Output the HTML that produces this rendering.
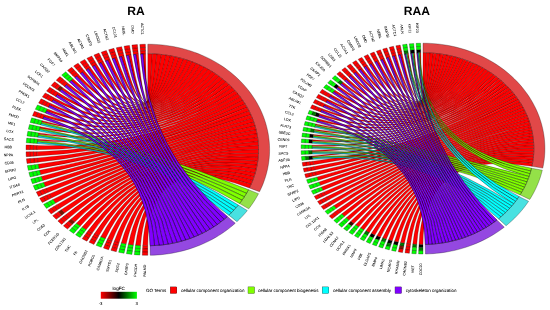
<!DOCTYPE html>
<html lang="en"><head><meta charset="utf-8"><title>GOChord RA / RAA</title>
<style>html,body{margin:0;padding:0;background:#fff}svg{display:block}</style></head>
<body>
<svg width="550" height="310" viewBox="0 0 550 310" text-rendering="geometricPrecision" font-family="'Liberation Sans', Arial, sans-serif">
<rect width="550" height="310" fill="#fff"/>
<defs><filter id="bold" x="-5%" y="-5%" width="110%" height="110%" color-interpolation-filters="sRGB"><feGaussianBlur stdDeviation="0.35"/><feComponentTransfer><feFuncA type="linear" slope="1.2"/></feComponentTransfer></filter><filter id="bold2" x="-5%" y="-20%" width="110%" height="140%" color-interpolation-filters="sRGB"><feGaussianBlur stdDeviation="0.3"/><feComponentTransfer><feFuncA type="linear" slope="1.2"/></feComponentTransfer></filter></defs>
<text x="136.1" y="14.5" font-size="12.1" font-weight="bold" text-anchor="middle" fill="#000">RA</text>
<text x="416.8" y="14.5" font-size="12.1" font-weight="bold" text-anchor="middle" fill="#000">RAA</text>
<g stroke="#000" stroke-width="0.28" stroke-linejoin="round">
<path d="M147.8,53.8L151.12,53.84L154.44,53.97L157.75,54.18L161.06,54.49L164.35,54.87L167.62,55.35L170.88,55.9L174.12,56.55L177.34,57.27L180.52,58.08L183.68,58.97L186.81,59.95L189.9,61L192.95,62.14L195.97,63.35L198.94,64.64L201.86,66.01L204.73,67.45L207.56,68.97L210.33,70.56L213.04,72.22L215.69,73.95L218.29,75.75L220.82,77.61L223.28,79.54L225.68,81.54L228,83.59L230.26,85.71L232.44,87.88L234.54,90.11L236.57,92.39L238.51,94.72L240.38,97.11L242.16,99.54L243.85,102.01L245.46,104.53L246.98,107.09L248.41,109.69L249.76,112.32L251.01,114.99L252.16,117.69L253.23,120.41L254.19,123.17L255.07,125.95L255.84,128.74L256.52,131.56L257.1,134.4L257.58,137.25L257.97,140.1L258.25,142.97L258.44,145.85L258.52,148.73L258.51,151.6L258.39,154.48L258.18,157.35L257.87,160.22L257.45,163.08L256.94,165.92L256.33,168.75L255.63,171.56L254.82,174.36L253.92,177.13L252.93,179.87L251.84,182.59L250.66,185.28L249.38,187.94L259.54,191.76L260.94,188.84L262.24,185.88L263.44,182.89L264.54,179.87L265.53,176.82L266.41,173.74L267.19,170.65L267.86,167.54L268.42,164.41L268.87,161.27L269.22,158.11L269.45,154.95L269.58,151.79L269.59,148.62L269.5,145.46L269.3,142.3L268.98,139.14L268.56,135.99L268.03,132.86L267.39,129.74L266.65,126.64L265.79,123.57L264.83,120.51L263.77,117.48L262.6,114.48L261.33,111.51L259.95,108.58L258.48,105.68L256.9,102.82L255.23,100.01L253.46,97.24L251.59,94.52L249.63,91.84L247.58,89.22L245.44,86.65L243.21,84.14L240.9,81.69L238.5,79.3L236.02,76.98L233.46,74.72L230.83,72.52L228.12,70.4L225.34,68.35L222.48,66.37L219.56,64.47L216.58,62.64L213.53,60.89L210.43,59.22L207.26,57.63L204.05,56.13L200.78,54.71L197.47,53.37L194.11,52.13L190.71,50.97L187.27,49.9L183.8,48.91L180.29,48.02L176.75,47.23L173.19,46.52L169.61,45.91L166,45.39L162.38,44.96L158.75,44.63L155.1,44.39L151.45,44.25L147.8,44.2Z" fill="#E14848"/>
<path d="M248.48,189.69L246.9,192.55L245.22,195.36L243.43,198.12L241.53,200.83L239.54,203.48L248.71,208.86L250.91,205.94L252.99,202.96L254.96,199.92L256.81,196.83L258.54,193.69Z" fill="#94E148"/>
<path d="M238.28,205.06L236.07,207.68L233.76,210.24L231.35,212.72L228.84,215.13L236.95,221.67L239.7,219.02L242.35,216.29L244.9,213.48L247.33,210.59Z" fill="#48E1E1"/>
<path d="M227.32,216.53L224.97,218.57L222.55,220.54L220.06,222.46L217.51,224.31L214.89,226.09L212.21,227.8L209.48,229.44L206.69,231.01L203.85,232.51L200.95,233.93L198.01,235.27L195.02,236.54L191.99,237.73L188.92,238.84L185.82,239.87L182.68,240.82L179.5,241.69L176.3,242.47L173.08,243.17L169.83,243.79L166.56,244.32L163.27,244.76L159.97,245.12L156.66,245.4L153.34,245.58L150.01,245.69L150.24,255.28L153.89,255.17L157.54,254.96L161.19,254.66L164.82,254.26L168.43,253.77L172.03,253.19L175.6,252.51L179.15,251.74L182.67,250.88L186.16,249.93L189.62,248.88L193.04,247.75L196.41,246.53L199.75,245.22L203.03,243.82L206.27,242.34L209.45,240.78L212.58,239.13L215.65,237.41L218.65,235.6L221.6,233.72L224.48,231.76L227.28,229.73L230.02,227.62L232.68,225.45L235.27,223.2Z" fill="#9448E1"/>
<path d="M145.59,53.81L143.07,53.88L140.56,54L140.32,50.81L142.91,50.69L145.51,50.62Z" fill="#FF0000"/>
<path d="M145.51,50.62L142.91,50.69L140.32,50.81L140.08,47.62L142.76,47.49L145.44,47.42Z" fill="#FF0000"/>
<path d="M145.44,47.42L142.76,47.49L140.08,47.62L139.83,44.43L142.6,44.3L145.36,44.22Z" fill="#FF0000"/>
<path d="M138.35,54.15L135.85,54.36L133.35,54.62L132.87,51.45L135.45,51.18L138.03,50.96Z" fill="#FF0000"/>
<path d="M138.03,50.96L135.45,51.18L132.87,51.45L132.38,48.27L135.05,48L137.72,47.77Z" fill="#FF0000"/>
<path d="M137.72,47.77L135.05,48L132.38,48.27L131.9,45.1L134.65,44.82L137.4,44.59Z" fill="#FF0000"/>
<path d="M131.15,54.89L128.67,55.24L126.2,55.64L125.48,52.5L128.03,52.09L130.6,51.72Z" fill="#FF0000"/>
<path d="M130.6,51.72L128.03,52.09L125.48,52.5L124.76,49.37L127.4,48.94L130.04,48.56Z" fill="#FF0000"/>
<path d="M130.04,48.56L127.4,48.94L124.76,49.37L124.04,46.23L126.76,45.79L129.49,45.4Z" fill="#FF0000"/>
<path d="M124.03,56.03L121.58,56.52L119.14,57.07L118.19,53.98L120.71,53.42L123.24,52.91Z" fill="#FF0000"/>
<path d="M123.24,52.91L120.71,53.42L118.19,53.98L117.23,50.89L119.83,50.31L122.45,49.78Z" fill="#FF0000"/>
<path d="M122.45,49.78L119.83,50.31L117.23,50.89L116.28,47.8L118.96,47.2L121.65,46.66Z" fill="#FF0000"/>
<path d="M117.01,57.58L114.6,58.21L112.21,58.89L111.02,55.86L113.49,55.16L115.98,54.51Z" fill="#FF0000"/>
<path d="M115.98,54.51L113.49,55.16L111.02,55.86L109.84,52.83L112.39,52.11L114.96,51.44Z" fill="#FF0000"/>
<path d="M114.96,51.44L112.39,52.11L109.84,52.83L108.65,49.8L111.28,49.06L113.93,48.36Z" fill="#FF0000"/>
<path d="M110.12,59.52L107.76,60.29L105.43,61.1L104.01,58.14L106.43,57.31L108.86,56.52Z" fill="#FF0000"/>
<path d="M108.86,56.52L106.43,57.31L104.01,58.14L102.6,55.19L105.09,54.32L107.61,53.51Z" fill="#FF0000"/>
<path d="M107.61,53.51L105.09,54.32L102.6,55.19L101.19,52.23L103.76,51.34L106.35,50.5Z" fill="#FF0000"/>
<path d="M103.39,61.85L101.1,62.75L98.83,63.69L97.19,60.82L99.54,59.85L101.91,58.92Z" fill="#FF0000"/>
<path d="M101.91,58.92L99.54,59.85L97.19,60.82L95.56,57.95L97.98,56.95L100.43,55.99Z" fill="#FF0000"/>
<path d="M100.43,55.99L97.98,56.95L95.56,57.95L93.93,55.09L96.43,54.05L98.95,53.06Z" fill="#FF0000"/>
<path d="M96.85,64.56L94.63,65.58L92.44,66.65L90.59,63.88L92.86,62.78L95.15,61.72Z" fill="#FF0000"/>
<path d="M95.15,61.72L92.86,62.78L90.59,63.88L88.75,61.11L91.08,59.97L93.45,58.88Z" fill="#FF0000"/>
<path d="M93.45,58.88L91.08,59.97L88.75,61.11L86.9,58.34L89.31,57.17L91.76,56.04Z" fill="#FF0000"/>
<path d="M90.53,67.63L88.39,68.78L86.28,69.97L84.23,67.31L86.41,66.08L88.62,64.89Z" fill="#FF0000"/>
<path d="M88.62,64.89L86.41,66.08L84.23,67.31L82.18,64.65L84.43,63.38L86.71,62.15Z" fill="#FF0000"/>
<path d="M86.71,62.15L84.43,63.38L82.18,64.65L80.13,61.99L82.45,60.68L84.8,59.41Z" fill="#FF0000"/>
<path d="M84.45,71.05L82.41,72.32L80.39,73.62L78.15,71.09L80.23,69.74L82.34,68.43Z" fill="#FF0000"/>
<path d="M82.34,68.43L80.23,69.74L78.15,71.09L75.9,68.55L78.05,67.15L80.23,65.8Z" fill="#FF0000"/>
<path d="M80.23,65.8L78.05,67.15L75.9,68.55L73.65,66.01L75.87,64.57L78.12,63.18Z" fill="#FF0000"/>
<path d="M78.65,74.81L76.7,76.19L74.79,77.61L72.36,75.2L74.33,73.74L76.35,72.31Z" fill="#FF0000"/>
<path d="M76.35,72.31L74.33,73.74L72.36,75.2L69.93,72.8L71.96,71.28L74.04,69.81Z" fill="#FF0000"/>
<path d="M74.04,69.81L71.96,71.28L69.93,72.8L67.49,70.39L69.59,68.83L71.74,67.31Z" fill="#FF0000"/>
<path d="M73.14,78.89L71.3,80.38L69.5,81.9L66.89,79.64L68.75,78.06L70.65,76.53Z" fill="#00FF00"/>
<path d="M70.65,76.53L68.75,78.06L66.89,79.64L64.28,77.38L66.2,75.75L68.16,74.16Z" fill="#00FF00"/>
<path d="M68.16,74.16L66.2,75.75L64.28,77.38L61.67,75.11L63.65,73.44L65.68,71.8Z" fill="#00FF00"/>
<path d="M67.95,83.27L66.23,84.86L64.55,86.48L61.78,84.37L63.51,82.7L65.29,81.05Z" fill="#FF0000"/>
<path d="M65.29,81.05L63.51,82.7L61.78,84.37L59,82.26L60.79,80.53L62.63,78.84Z" fill="#FF0000"/>
<path d="M62.63,78.84L60.79,80.53L59,82.26L56.23,80.16L58.07,78.37L59.97,76.62Z" fill="#FF0000"/>
<path d="M63.11,87.94L61.51,89.62L59.95,91.34L57.03,89.39L58.63,87.62L60.28,85.88Z" fill="#7A1400"/>
<path d="M60.28,85.88L58.63,87.62L57.03,89.39L54.1,87.44L55.76,85.61L57.46,83.82Z" fill="#FF0000"/>
<path d="M57.46,83.82L55.76,85.61L54.1,87.44L51.17,85.5L52.88,83.61L54.64,81.76Z" fill="#FF0000"/>
<path d="M58.62,92.87L57.16,94.64L55.73,96.44L52.66,94.66L54.13,92.8L55.65,90.97Z" fill="#FF0000"/>
<path d="M55.65,90.97L54.13,92.8L52.66,94.66L49.6,92.89L51.11,90.97L52.68,89.08Z" fill="#FF0000"/>
<path d="M52.68,89.08L51.11,90.97L49.6,92.89L46.53,91.11L48.09,89.13L49.71,87.18Z" fill="#FF0000"/>
<path d="M54.52,98.05L53.19,99.9L51.91,101.77L48.71,100.17L50.04,98.24L51.41,96.32Z" fill="#FF0000"/>
<path d="M51.41,96.32L50.04,98.24L48.71,100.17L45.51,98.57L46.88,96.57L48.3,94.6Z" fill="#FF0000"/>
<path d="M48.3,94.6L46.88,96.57L45.51,98.57L42.32,96.97L43.73,94.91L45.19,92.88Z" fill="#FF0000"/>
<path d="M50.82,103.44L49.63,105.37L48.49,107.31L45.18,105.9L46.36,103.89L47.59,101.9Z" fill="#FF0000"/>
<path d="M47.59,101.9L46.36,103.89L45.18,105.9L41.87,104.48L43.09,102.41L44.35,100.36Z" fill="#FF0000"/>
<path d="M44.35,100.36L43.09,102.41L41.87,104.48L38.56,103.07L39.81,100.93L41.12,98.81Z" fill="#FF0000"/>
<path d="M47.53,109.04L46.49,111.02L45.5,113.03L42.09,111.81L43.11,109.73L44.19,107.68Z" fill="#00FF00"/>
<path d="M44.19,107.68L43.11,109.73L42.09,111.81L38.68,110.58L39.74,108.44L40.85,106.33Z" fill="#00FF00"/>
<path d="M40.85,106.33L39.74,108.44L38.68,110.58L35.27,109.36L36.36,107.15L37.51,104.97Z" fill="#00FF00"/>
<path d="M44.67,114.81L43.78,116.85L42.95,118.91L39.45,117.88L40.32,115.75L41.24,113.65Z" fill="#FF0000"/>
<path d="M41.24,113.65L40.32,115.75L39.45,117.88L35.96,116.85L36.85,114.66L37.8,112.48Z" fill="#FF0000"/>
<path d="M37.8,112.48L36.85,114.66L35.96,116.85L32.46,115.82L33.38,113.56L34.36,111.32Z" fill="#FF0000"/>
<path d="M42.26,120.73L41.52,122.82L40.85,124.92L37.28,124.09L37.98,121.92L38.74,119.76Z" fill="#00FF00"/>
<path d="M38.74,119.76L37.98,121.92L37.28,124.09L33.72,123.26L34.44,121.02L35.22,118.8Z" fill="#00FF00"/>
<path d="M35.22,118.8L34.44,121.02L33.72,123.26L30.15,122.43L30.9,120.12L31.7,117.83Z" fill="#00FF00"/>
<path d="M40.29,126.77L39.72,128.9L39.2,131.03L35.58,130.41L36.12,128.2L36.71,126.01Z" fill="#00FF00"/>
<path d="M36.71,126.01L36.12,128.2L35.58,130.41L31.96,129.78L32.51,127.51L33.13,125.24Z" fill="#00FF00"/>
<path d="M33.13,125.24L32.51,127.51L31.96,129.78L28.34,129.16L28.91,126.81L29.54,124.48Z" fill="#00FF00"/>
<path d="M38.79,132.92L38.38,135.07L38.02,137.23L34.36,136.81L34.73,134.58L35.16,132.35Z" fill="#00FF00"/>
<path d="M35.16,132.35L34.73,134.58L34.36,136.81L30.7,136.39L31.08,134.09L31.52,131.79Z" fill="#00FF00"/>
<path d="M31.52,131.79L31.08,134.09L30.7,136.39L27.04,135.97L27.43,133.6L27.89,131.23Z" fill="#00FF00"/>
<path d="M37.75,139.13L37.5,141.3L37.31,143.47L33.63,143.27L33.83,141.02L34.08,138.78Z" fill="#00FF00"/>
<path d="M34.08,138.78L33.83,141.02L33.63,143.27L29.94,143.06L30.15,140.74L30.42,138.42Z" fill="#00FF00"/>
<path d="M30.42,138.42L30.15,140.74L29.94,143.06L26.26,142.85L26.47,140.46L26.75,138.07Z" fill="#00FF00"/>
<path d="M37.19,145.39L37.1,147.57L37.07,149.75L33.38,149.75L33.41,147.5L33.5,145.25Z" fill="#FF0000"/>
<path d="M33.5,145.25L33.41,147.5L33.38,149.75L29.69,149.75L29.72,147.42L29.81,145.1Z" fill="#FF0000"/>
<path d="M29.81,145.1L29.72,147.42L29.69,149.75L26,149.75L26.03,147.35L26.13,144.95Z" fill="#FF0000"/>
<path d="M37.09,151.67L37.17,153.85L37.31,156.03L33.63,156.23L33.49,153.99L33.4,151.73Z" fill="#FF0000"/>
<path d="M33.4,151.73L33.49,153.99L33.63,156.23L29.94,156.44L29.8,154.12L29.71,151.8Z" fill="#FF0000"/>
<path d="M29.71,151.8L29.8,154.12L29.94,156.44L26.26,156.65L26.11,154.26L26.02,151.86Z" fill="#FF0000"/>
<path d="M37.48,157.94L37.72,160.11L38.02,162.27L34.36,162.69L34.05,160.45L33.8,158.21Z" fill="#FF0000"/>
<path d="M33.8,158.21L34.05,160.45L34.36,162.69L30.7,163.11L30.38,160.8L30.12,158.49Z" fill="#FF0000"/>
<path d="M30.12,158.49L30.38,160.8L30.7,163.11L27.04,163.53L26.71,161.15L26.44,158.76Z" fill="#FF0000"/>
<path d="M38.33,164.17L38.74,166.33L39.2,168.47L35.58,169.09L35.1,166.88L34.68,164.66Z" fill="#00FF00"/>
<path d="M34.68,164.66L35.1,166.88L35.58,169.09L31.96,169.72L31.47,167.43L31.03,165.14Z" fill="#00FF00"/>
<path d="M31.03,165.14L31.47,167.43L31.96,169.72L28.34,170.34L27.83,167.98L27.38,165.62Z" fill="#00FF00"/>
<path d="M39.65,170.35L40.22,172.47L40.85,174.58L37.28,175.41L36.64,173.23L36.05,171.03Z" fill="#00FF00"/>
<path d="M36.05,171.03L36.64,173.23L37.28,175.41L33.72,176.24L33.05,173.99L32.44,171.72Z" fill="#00FF00"/>
<path d="M32.44,171.72L33.05,173.99L33.72,176.24L30.15,177.07L29.46,174.74L28.84,172.41Z" fill="#00FF00"/>
<path d="M41.44,176.43L42.17,178.52L42.95,180.59L39.45,181.62L38.65,179.48L37.89,177.32Z" fill="#00FF00"/>
<path d="M37.89,177.32L38.65,179.48L39.45,181.62L35.96,182.65L35.13,180.44L34.35,178.21Z" fill="#00FF00"/>
<path d="M34.35,178.21L35.13,180.44L35.96,182.65L32.46,183.68L31.6,181.4L30.8,179.1Z" fill="#00FF00"/>
<path d="M43.68,182.4L44.56,184.45L45.5,186.47L42.09,187.69L41.12,185.6L40.21,183.49Z" fill="#00FF00"/>
<path d="M40.21,183.49L41.12,185.6L42.09,187.69L38.68,188.92L37.68,186.76L36.74,184.58Z" fill="#00FF00"/>
<path d="M36.74,184.58L37.68,186.76L38.68,188.92L35.27,190.14L34.24,187.92L33.27,185.67Z" fill="#00FF00"/>
<path d="M46.37,188.24L47.4,190.22L48.49,192.19L45.18,193.6L44.06,191.57L42.99,189.52Z" fill="#FF0000"/>
<path d="M42.99,189.52L44.06,191.57L45.18,193.6L41.87,195.02L40.71,192.92L39.61,190.8Z" fill="#FF0000"/>
<path d="M39.61,190.8L40.71,192.92L41.87,195.02L38.56,196.43L37.37,194.27L36.23,192.08Z" fill="#FF0000"/>
<path d="M49.49,193.9L50.67,195.83L51.91,197.73L48.71,199.33L47.44,197.36L46.21,195.37Z" fill="#FF0000"/>
<path d="M46.21,195.37L47.44,197.36L48.71,199.33L45.51,200.93L44.2,198.9L42.94,196.85Z" fill="#FF0000"/>
<path d="M42.94,196.85L44.2,198.9L45.51,200.93L42.32,202.52L40.96,200.43L39.66,198.32Z" fill="#FF0000"/>
<path d="M53.03,199.38L54.36,201.23L55.73,203.06L52.66,204.84L51.24,202.95L49.87,201.03Z" fill="#00FF00"/>
<path d="M49.87,201.03L51.24,202.95L52.66,204.84L49.6,206.61L48.13,204.66L46.72,202.69Z" fill="#00FF00"/>
<path d="M46.72,202.69L48.13,204.66L49.6,206.61L46.53,208.39L45.02,206.38L43.56,204.34Z" fill="#00FF00"/>
<path d="M56.98,204.64L58.45,206.42L59.95,208.16L57.03,210.11L55.47,208.31L53.96,206.47Z" fill="#FF0000"/>
<path d="M53.96,206.47L55.47,208.31L57.03,210.11L54.1,212.06L52.49,210.2L50.93,208.3Z" fill="#FF0000"/>
<path d="M50.93,208.3L52.49,210.2L54.1,212.06L51.17,214L49.51,212.09L47.9,210.13Z" fill="#FF0000"/>
<path d="M61.32,209.67L62.91,211.36L64.55,213.02L61.78,215.13L60.08,213.42L58.44,211.67Z" fill="#7A1400"/>
<path d="M58.44,211.67L60.08,213.42L61.78,215.13L59,217.24L57.25,215.47L55.55,213.67Z" fill="#FF0000"/>
<path d="M55.55,213.67L57.25,215.47L59,217.24L56.23,219.34L54.42,217.52L52.67,215.67Z" fill="#FF0000"/>
<path d="M66.03,214.45L67.75,216.04L69.5,217.6L66.89,219.86L65.08,218.25L63.3,216.6Z" fill="#FF0000"/>
<path d="M63.3,216.6L65.08,218.25L66.89,219.86L64.28,222.12L62.41,220.46L60.58,218.76Z" fill="#FF0000"/>
<path d="M60.58,218.76L62.41,220.46L64.28,222.12L61.67,224.39L59.74,222.67L57.85,220.92Z" fill="#FF0000"/>
<path d="M71.09,218.94L72.92,220.44L74.79,221.89L72.36,224.3L70.42,222.79L68.53,221.25Z" fill="#7A1400"/>
<path d="M68.53,221.25L70.42,222.79L72.36,224.3L69.93,226.7L67.93,225.15L65.97,223.56Z" fill="#FF0000"/>
<path d="M65.97,223.56L67.93,225.15L69.93,226.7L67.49,229.11L65.43,227.5L63.41,225.86Z" fill="#FF0000"/>
<path d="M76.47,223.14L78.41,224.53L80.39,225.88L78.15,228.41L76.1,227.02L74.09,225.59Z" fill="#00FF00"/>
<path d="M74.09,225.59L76.1,227.02L78.15,228.41L75.9,230.95L73.79,229.51L71.72,228.04Z" fill="#00FF00"/>
<path d="M71.72,228.04L73.79,229.51L75.9,230.95L73.65,233.49L71.48,232.01L69.34,230.48Z" fill="#00FF00"/>
<path d="M82.16,227.03L84.21,228.3L86.28,229.53L84.23,232.19L82.09,230.92L79.98,229.6Z" fill="#00FF00"/>
<path d="M79.98,229.6L82.09,230.92L84.23,232.19L82.18,234.85L79.97,233.54L77.79,232.18Z" fill="#00FF00"/>
<path d="M77.79,232.18L79.97,233.54L82.18,234.85L80.13,237.51L77.85,236.16L75.6,234.76Z" fill="#00FF00"/>
<path d="M88.14,230.58L90.27,231.74L92.44,232.85L90.59,235.62L88.35,234.47L86.15,233.28Z" fill="#FF0000"/>
<path d="M86.15,233.28L88.35,234.47L90.59,235.62L88.75,238.39L86.44,237.2L84.16,235.97Z" fill="#FF0000"/>
<path d="M84.16,235.97L86.44,237.2L88.75,238.39L86.9,241.16L84.52,239.94L82.17,238.67Z" fill="#FF0000"/>
<path d="M94.37,233.79L96.58,234.82L98.83,235.81L97.19,238.68L94.88,237.66L92.58,236.59Z" fill="#FF0000"/>
<path d="M92.58,236.59L94.88,237.66L97.19,238.68L95.56,241.55L93.17,240.49L90.8,239.39Z" fill="#FF0000"/>
<path d="M90.8,239.39L93.17,240.49L95.56,241.55L93.93,244.41L91.46,243.33L89.02,242.2Z" fill="#FF0000"/>
<path d="M100.82,236.64L103.11,237.54L105.43,238.4L104.01,241.36L101.62,240.47L99.26,239.54Z" fill="#00FF00"/>
<path d="M99.26,239.54L101.62,240.47L104.01,241.36L102.6,244.31L100.13,243.4L97.69,242.43Z" fill="#00FF00"/>
<path d="M97.69,242.43L100.13,243.4L102.6,244.31L101.19,247.27L98.64,246.32L96.12,245.33Z" fill="#00FF00"/>
<path d="M107.48,239.12L109.83,239.89L112.21,240.61L111.02,243.64L108.57,242.89L106.14,242.1Z" fill="#FF0000"/>
<path d="M106.14,242.1L108.57,242.89L111.02,243.64L109.84,246.67L107.3,245.9L104.79,245.07Z" fill="#FF0000"/>
<path d="M104.79,245.07L107.3,245.9L109.84,246.67L108.65,249.7L106.04,248.9L103.45,248.05Z" fill="#FF0000"/>
<path d="M114.31,241.21L116.72,241.85L119.14,242.43L118.19,245.52L115.68,244.92L113.2,244.26Z" fill="#FF0000"/>
<path d="M113.2,244.26L115.68,244.92L118.19,245.52L117.23,248.61L114.65,247.99L112.08,247.31Z" fill="#FF0000"/>
<path d="M112.08,247.31L114.65,247.99L117.23,248.61L116.28,251.7L113.61,251.06L110.96,250.36Z" fill="#FF0000"/>
<path d="M121.29,242.91L123.74,243.41L126.2,243.86L125.48,247L122.93,246.53L120.4,246.02Z" fill="#00FF00"/>
<path d="M120.4,246.02L122.93,246.53L125.48,247L124.76,250.13L122.13,249.66L119.52,249.12Z" fill="#00FF00"/>
<path d="M119.52,249.12L122.13,249.66L124.76,250.13L124.04,253.27L121.33,252.78L118.63,252.23Z" fill="#00FF00"/>
<path d="M128.37,244.22L130.86,244.57L133.35,244.88L132.87,248.05L130.29,247.74L127.73,247.37Z" fill="#00FF00"/>
<path d="M127.73,247.37L130.29,247.74L132.87,248.05L132.38,251.23L129.73,250.9L127.08,250.51Z" fill="#00FF00"/>
<path d="M127.08,250.51L129.73,250.9L132.38,251.23L131.9,254.4L129.16,254.06L126.43,253.66Z" fill="#00FF00"/>
<path d="M135.55,245.12L138.05,245.33L140.56,245.5L140.32,248.69L137.72,248.52L135.14,248.29Z" fill="#00FF00"/>
<path d="M135.14,248.29L137.72,248.52L140.32,248.69L140.08,251.88L137.4,251.7L134.73,251.47Z" fill="#00FF00"/>
<path d="M134.73,251.47L137.4,251.7L140.08,251.88L139.83,255.07L137.07,254.89L134.32,254.65Z" fill="#00FF00"/>
<path d="M142.77,245.61L145.28,245.68L147.8,245.7L147.8,248.9L145.2,248.88L142.6,248.8Z" fill="#FF0000"/>
<path d="M142.6,248.8L145.2,248.88L147.8,248.9L147.8,252.1L145.12,252.08L142.43,252Z" fill="#FF0000"/>
<path d="M142.43,252L145.12,252.08L147.8,252.1L147.8,255.3L145.03,255.27L142.27,255.19Z" fill="#FF0000"/>
<path d="M147.8,53.8Q147.8,149.75 145.59,53.81L143.07,53.88Q147.8,149.75 152.37,53.88Z" fill="#FF0000" stroke-width="0.24"/>
<path d="M152.37,53.88Q147.8,149.75 138.35,54.15L135.85,54.36Q147.8,149.75 156.93,54.12Z" fill="#FF0000" stroke-width="0.24"/>
<path d="M156.93,54.12Q147.8,149.75 131.15,54.89L128.67,55.24Q147.8,149.75 161.47,54.53Z" fill="#FF0000" stroke-width="0.24"/>
<path d="M161.47,54.53Q147.8,149.75 124.03,56.03L121.58,56.52Q147.8,149.75 165.99,55.1Z" fill="#FF0000" stroke-width="0.24"/>
<path d="M165.99,55.1Q147.8,149.75 117.01,57.58L114.6,58.21Q147.8,149.75 170.48,55.83Z" fill="#FF0000" stroke-width="0.24"/>
<path d="M170.48,55.83Q147.8,149.75 110.12,59.52L107.76,60.29Q147.8,149.75 174.93,56.72Z" fill="#FF0000" stroke-width="0.24"/>
<path d="M174.93,56.72Q147.8,149.75 103.39,61.85L101.1,62.75Q147.8,149.75 179.33,57.77Z" fill="#FF0000" stroke-width="0.24"/>
<path d="M179.33,57.77Q147.8,149.75 96.85,64.56L94.63,65.58Q147.8,149.75 183.68,58.97Z" fill="#FF0000" stroke-width="0.24"/>
<path d="M183.68,58.97Q147.8,149.75 90.53,67.63L88.39,68.78Q147.8,149.75 187.97,60.33Z" fill="#FF0000" stroke-width="0.24"/>
<path d="M187.97,60.33Q147.8,149.75 84.45,71.05L82.41,72.32Q147.8,149.75 192.19,61.85Z" fill="#FF0000" stroke-width="0.24"/>
<path d="M192.19,61.85Q147.8,149.75 78.65,74.81L76.7,76.19Q147.8,149.75 196.34,63.51Z" fill="#FF0000" stroke-width="0.24"/>
<path d="M196.34,63.51Q147.8,149.75 73.14,78.89L71.3,80.38Q147.8,149.75 200.4,65.31Z" fill="#FF0000" stroke-width="0.24"/>
<path d="M200.4,65.31Q147.8,149.75 67.95,83.27L66.23,84.86Q147.8,149.75 204.38,67.27Z" fill="#FF0000" stroke-width="0.24"/>
<path d="M204.38,67.27Q147.8,149.75 63.11,87.94L61.51,89.62Q147.8,149.75 208.25,69.36Z" fill="#FF0000" stroke-width="0.24"/>
<path d="M208.25,69.36Q147.8,149.75 58.62,92.87L57.16,94.64Q147.8,149.75 212.03,71.59Z" fill="#FF0000" stroke-width="0.24"/>
<path d="M212.03,71.59Q147.8,149.75 54.52,98.05L53.19,99.9Q147.8,149.75 215.69,73.95Z" fill="#FF0000" stroke-width="0.24"/>
<path d="M215.69,73.95Q147.8,149.75 50.82,103.44L49.63,105.37Q147.8,149.75 219.24,76.44Z" fill="#FF0000" stroke-width="0.24"/>
<path d="M219.24,76.44Q147.8,149.75 47.53,109.04L46.49,111.02Q147.8,149.75 222.67,79.06Z" fill="#FF0000" stroke-width="0.24"/>
<path d="M222.67,79.06Q147.8,149.75 44.67,114.81L43.78,116.85Q147.8,149.75 225.97,81.79Z" fill="#FF0000" stroke-width="0.24"/>
<path d="M225.97,81.79Q147.8,149.75 42.26,120.73L41.76,122.12Q147.8,149.75 229.14,84.64Z" fill="#FF0000" stroke-width="0.24"/>
<path d="M229.14,84.64Q147.8,149.75 40.29,126.77L39.9,128.19Q147.8,149.75 232.17,87.61Z" fill="#FF0000" stroke-width="0.24"/>
<path d="M232.17,87.61Q147.8,149.75 38.79,132.92L38.51,134.35Q147.8,149.75 235.05,90.67Z" fill="#FF0000" stroke-width="0.24"/>
<path d="M235.05,90.67Q147.8,149.75 37.75,139.13L37.58,140.58Q147.8,149.75 237.79,93.84Z" fill="#FF0000" stroke-width="0.24"/>
<path d="M237.79,93.84Q147.8,149.75 37.19,145.39L37.07,149.75Q147.8,149.75 240.38,97.11Z" fill="#FF0000" stroke-width="0.24"/>
<path d="M240.38,97.11Q147.8,149.75 37.09,151.67L37.31,156.03Q147.8,149.75 242.8,100.46Z" fill="#FF0000" stroke-width="0.24"/>
<path d="M242.8,100.46Q147.8,149.75 37.48,157.94L38.02,162.27Q147.8,149.75 245.07,103.9Z" fill="#FF0000" stroke-width="0.24"/>
<path d="M245.07,103.9Q147.8,149.75 38.33,164.17L39.2,168.47Q147.8,149.75 247.17,107.41Z" fill="#FF0000" stroke-width="0.24"/>
<path d="M247.17,107.41Q147.8,149.75 39.65,170.35L40.85,174.58Q147.8,149.75 249.1,111Z" fill="#FF0000" stroke-width="0.24"/>
<path d="M249.1,111Q147.8,149.75 41.44,176.43L42.95,180.59Q147.8,149.75 250.85,114.65Z" fill="#FF0000" stroke-width="0.24"/>
<path d="M250.85,114.65Q147.8,149.75 43.68,182.4L45.5,186.47Q147.8,149.75 252.44,118.37Z" fill="#FF0000" stroke-width="0.24"/>
<path d="M252.44,118.37Q147.8,149.75 46.37,188.24L48.49,192.19Q147.8,149.75 253.84,122.13Z" fill="#FF0000" stroke-width="0.24"/>
<path d="M253.84,122.13Q147.8,149.75 49.49,193.9L51.91,197.73Q147.8,149.75 255.07,125.95Z" fill="#FF0000" stroke-width="0.24"/>
<path d="M255.07,125.95Q147.8,149.75 53.03,199.38L55.73,203.06Q147.8,149.75 256.11,129.8Z" fill="#FF0000" stroke-width="0.24"/>
<path d="M256.11,129.8Q147.8,149.75 56.98,204.64L59.95,208.16Q147.8,149.75 256.96,133.69Z" fill="#FF0000" stroke-width="0.24"/>
<path d="M256.96,133.69Q147.8,149.75 61.32,209.67L64.55,213.02Q147.8,149.75 257.64,137.6Z" fill="#FF0000" stroke-width="0.24"/>
<path d="M257.64,137.6Q147.8,149.75 66.03,214.45L69.5,217.6Q147.8,149.75 258.12,141.54Z" fill="#FF0000" stroke-width="0.24"/>
<path d="M258.12,141.54Q147.8,149.75 71.09,218.94L74.79,221.89Q147.8,149.75 258.42,145.49Z" fill="#FF0000" stroke-width="0.24"/>
<path d="M258.42,145.49Q147.8,149.75 76.47,223.14L80.39,225.88Q147.8,149.75 258.53,149.44Z" fill="#FF0000" stroke-width="0.24"/>
<path d="M258.53,149.44Q147.8,149.75 82.16,227.03L86.28,229.53Q147.8,149.75 258.45,153.4Z" fill="#FF0000" stroke-width="0.24"/>
<path d="M258.45,153.4Q147.8,149.75 88.14,230.58L92.44,232.85Q147.8,149.75 258.18,157.35Z" fill="#FF0000" stroke-width="0.24"/>
<path d="M258.18,157.35Q147.8,149.75 94.37,233.79L98.83,235.81Q147.8,149.75 257.72,161.29Z" fill="#FF0000" stroke-width="0.24"/>
<path d="M257.72,161.29Q147.8,149.75 100.82,236.64L105.43,238.4Q147.8,149.75 257.08,165.21Z" fill="#FF0000" stroke-width="0.24"/>
<path d="M257.08,165.21Q147.8,149.75 107.48,239.12L112.21,240.61Q147.8,149.75 256.25,169.1Z" fill="#FF0000" stroke-width="0.24"/>
<path d="M256.25,169.1Q147.8,149.75 114.31,241.21L119.14,242.43Q147.8,149.75 255.24,172.96Z" fill="#FF0000" stroke-width="0.24"/>
<path d="M255.24,172.96Q147.8,149.75 121.29,242.91L126.2,243.86Q147.8,149.75 254.04,176.78Z" fill="#FF0000" stroke-width="0.24"/>
<path d="M254.04,176.78Q147.8,149.75 128.37,244.22L133.35,244.88Q147.8,149.75 252.67,180.56Z" fill="#FF0000" stroke-width="0.24"/>
<path d="M252.67,180.56Q147.8,149.75 135.55,245.12L140.56,245.5Q147.8,149.75 251.11,184.28Z" fill="#FF0000" stroke-width="0.24"/>
<path d="M251.11,184.28Q147.8,149.75 142.77,245.61L147.8,245.7Q147.8,149.75 249.38,187.94Z" fill="#FF0000" stroke-width="0.24"/>
<path d="M248.48,189.69Q147.8,149.75 41.76,122.12L41.29,123.51Q147.8,149.75 246.49,193.26Z" fill="#80FF00" stroke-width="0.36"/>
<path d="M246.49,193.26Q147.8,149.75 39.9,128.19L39.54,129.61Q147.8,149.75 244.34,196.75Z" fill="#80FF00" stroke-width="0.36"/>
<path d="M244.34,196.75Q147.8,149.75 38.51,134.35L38.25,135.79Q147.8,149.75 242.02,200.16Z" fill="#80FF00" stroke-width="0.36"/>
<path d="M242.02,200.16Q147.8,149.75 37.58,140.58L37.43,142.02Q147.8,149.75 239.54,203.48Z" fill="#80FF00" stroke-width="0.36"/>
<path d="M238.28,205.06Q147.8,149.75 41.29,123.51L40.85,124.92Q147.8,149.75 236.07,207.68Z" fill="#00FFFF" stroke-width="0.36"/>
<path d="M236.07,207.68Q147.8,149.75 39.54,129.61L39.2,131.03Q147.8,149.75 233.76,210.24Z" fill="#00FFFF" stroke-width="0.36"/>
<path d="M233.76,210.24Q147.8,149.75 38.25,135.79L38.02,137.23Q147.8,149.75 231.35,212.72Z" fill="#00FFFF" stroke-width="0.36"/>
<path d="M231.35,212.72Q147.8,149.75 37.43,142.02L37.31,143.47Q147.8,149.75 228.84,215.13Z" fill="#00FFFF" stroke-width="0.36"/>
<path d="M227.32,216.53Q147.8,149.75 143.07,53.88L140.56,54Q147.8,149.75 224.08,219.3Z" fill="#8000FF" stroke-width="0.46"/>
<path d="M224.08,219.3Q147.8,149.75 135.85,54.36L133.35,54.62Q147.8,149.75 220.72,221.96Z" fill="#8000FF" stroke-width="0.46"/>
<path d="M220.72,221.96Q147.8,149.75 128.67,55.24L126.2,55.64Q147.8,149.75 217.23,224.5Z" fill="#8000FF" stroke-width="0.46"/>
<path d="M217.23,224.5Q147.8,149.75 121.58,56.52L119.14,57.07Q147.8,149.75 213.63,226.91Z" fill="#8000FF" stroke-width="0.46"/>
<path d="M213.63,226.91Q147.8,149.75 114.6,58.21L112.21,58.89Q147.8,149.75 209.91,229.18Z" fill="#8000FF" stroke-width="0.46"/>
<path d="M209.91,229.18Q147.8,149.75 107.76,60.29L105.43,61.1Q147.8,149.75 206.09,231.33Z" fill="#8000FF" stroke-width="0.46"/>
<path d="M206.09,231.33Q147.8,149.75 101.1,62.75L98.83,63.69Q147.8,149.75 202.18,233.34Z" fill="#8000FF" stroke-width="0.46"/>
<path d="M202.18,233.34Q147.8,149.75 94.63,65.58L92.44,66.65Q147.8,149.75 198.17,235.2Z" fill="#8000FF" stroke-width="0.46"/>
<path d="M198.17,235.2Q147.8,149.75 88.39,68.78L86.28,69.97Q147.8,149.75 194.07,236.93Z" fill="#8000FF" stroke-width="0.46"/>
<path d="M194.07,236.93Q147.8,149.75 82.41,72.32L80.39,73.62Q147.8,149.75 189.9,238.5Z" fill="#8000FF" stroke-width="0.46"/>
<path d="M189.9,238.5Q147.8,149.75 76.7,76.19L74.79,77.61Q147.8,149.75 185.65,239.92Z" fill="#8000FF" stroke-width="0.46"/>
<path d="M185.65,239.92Q147.8,149.75 71.3,80.38L69.5,81.9Q147.8,149.75 181.34,241.2Z" fill="#8000FF" stroke-width="0.46"/>
<path d="M181.34,241.2Q147.8,149.75 66.23,84.86L64.55,86.48Q147.8,149.75 176.98,242.31Z" fill="#8000FF" stroke-width="0.46"/>
<path d="M176.98,242.31Q147.8,149.75 61.51,89.62L59.95,91.34Q147.8,149.75 172.56,243.27Z" fill="#8000FF" stroke-width="0.46"/>
<path d="M172.56,243.27Q147.8,149.75 57.16,94.64L55.73,96.44Q147.8,149.75 168.11,244.08Z" fill="#8000FF" stroke-width="0.46"/>
<path d="M168.11,244.08Q147.8,149.75 53.19,99.9L51.91,101.77Q147.8,149.75 163.62,244.72Z" fill="#8000FF" stroke-width="0.46"/>
<path d="M163.62,244.72Q147.8,149.75 49.63,105.37L48.49,107.31Q147.8,149.75 159.1,245.2Z" fill="#8000FF" stroke-width="0.46"/>
<path d="M159.1,245.2Q147.8,149.75 46.49,111.02L45.5,113.03Q147.8,149.75 154.56,245.53Z" fill="#8000FF" stroke-width="0.46"/>
<path d="M154.56,245.53Q147.8,149.75 43.78,116.85L42.95,118.91Q147.8,149.75 150.01,245.69Z" fill="#8000FF" stroke-width="0.46"/>
</g>
<g font-size="10" text-anchor="middle" fill="#000" filter="url(#bold)">
<text transform="translate(141.84,28.96) rotate(-270) scale(0.36)" y="3.6">ACTC1</text>
<text transform="translate(132.74,29.55) rotate(-273.83) scale(0.36)" y="3.6">DMD</text>
<text transform="translate(123.7,30.67) rotate(-277.66) scale(0.36)" y="3.6">NEBL</text>
<text transform="translate(114.76,32.29) rotate(-281.49) scale(0.36)" y="3.6">CCL21</text>
<text transform="translate(105.97,34.41) rotate(-285.32) scale(0.36)" y="3.6">ACTN2</text>
<text transform="translate(97.35,37.03) rotate(-289.15) scale(0.36)" y="3.6">LMOD2</text>
<text transform="translate(88.95,40.13) rotate(-292.98) scale(0.36)" y="3.6">CSRP3</text>
<text transform="translate(80.81,43.7) rotate(-296.81) scale(0.36)" y="3.6">ACTA1</text>
<text transform="translate(72.94,47.72) rotate(-300.64) scale(0.36)" y="3.6">ABLIM1</text>
<text transform="translate(65.4,52.18) rotate(-304.47) scale(0.36)" y="3.6">ANK1</text>
<text transform="translate(58.22,57.06) rotate(-308.3) scale(0.36)" y="3.6">BMP10</text>
<text transform="translate(51.41,62.34) rotate(-312.13) scale(0.36)" y="3.6">FGF7</text>
<text transform="translate(45.02,67.99) rotate(-315.96) scale(0.36)" y="3.6">CASQ2</text>
<text transform="translate(39.07,73.99) rotate(-319.79) scale(0.36)" y="3.6">LCP1</text>
<text transform="translate(33.59,80.31) rotate(-323.62) scale(0.36)" y="3.6">SORBS1</text>
<text transform="translate(28.59,86.94) rotate(-327.45) scale(0.36)" y="3.6">PDLIM3</text>
<text transform="translate(24.11,93.83) rotate(-331.28) scale(0.36)" y="3.6">PROX1</text>
<text transform="translate(20.15,100.96) rotate(-335.11) scale(0.36)" y="3.6">CCL2</text>
<text transform="translate(16.74,108.3) rotate(-338.94) scale(0.36)" y="3.6">PLEK</text>
<text transform="translate(13.89,115.81) rotate(-342.77) scale(0.36)" y="3.6">FMOD</text>
<text transform="translate(11.62,123.47) rotate(-346.6) scale(0.36)" y="3.6">ME1</text>
<text transform="translate(9.93,131.25) rotate(-350.43) scale(0.36)" y="3.6">LOX</text>
<text transform="translate(8.83,139.1) rotate(-354.26) scale(0.36)" y="3.6">SACS</text>
<text transform="translate(8.32,147) rotate(-358.09) scale(0.36)" y="3.6">HBB</text>
<text transform="translate(8.41,154.91) rotate(-1.91) scale(0.36)" y="3.6">NPPA</text>
<text transform="translate(9.1,162.8) rotate(-5.74) scale(0.36)" y="3.6">CD36</text>
<text transform="translate(10.38,170.64) rotate(-9.57) scale(0.36)" y="3.6">SFRP2</text>
<text transform="translate(12.25,178.38) rotate(-13.4) scale(0.36)" y="3.6">LIPG</text>
<text transform="translate(14.7,186) rotate(-17.23) scale(0.36)" y="3.6">ITGA8</text>
<text transform="translate(17.72,193.47) rotate(-21.06) scale(0.36)" y="3.6">PRRX1</text>
<text transform="translate(21.3,200.75) rotate(-24.89) scale(0.36)" y="3.6">PLN</text>
<text transform="translate(25.42,207.81) rotate(-28.72) scale(0.36)" y="3.6">IL1B</text>
<text transform="translate(30.07,214.62) rotate(-32.55) scale(0.36)" y="3.6">UCHL1</text>
<text transform="translate(35.21,221.15) rotate(-36.38) scale(0.36)" y="3.6">LPL</text>
<text transform="translate(40.84,227.38) rotate(-40.21) scale(0.36)" y="3.6">CD53</text>
<text transform="translate(46.93,233.28) rotate(-44.04) scale(0.36)" y="3.6">CCK</text>
<text transform="translate(53.45,238.81) rotate(-47.87) scale(0.36)" y="3.6">FCER1G</text>
<text transform="translate(60.37,243.97) rotate(-51.7) scale(0.36)" y="3.6">COL12A1</text>
<text transform="translate(67.67,248.72) rotate(-55.53) scale(0.36)" y="3.6">TNC</text>
<text transform="translate(75.31,253.05) rotate(-59.36) scale(0.36)" y="3.6">F5</text>
<text transform="translate(83.27,256.94) rotate(-63.19) scale(0.36)" y="3.6">CACNB2</text>
<text transform="translate(91.49,260.37) rotate(-67.02) scale(0.36)" y="3.6">ROBO1</text>
<text transform="translate(99.96,263.32) rotate(-70.85) scale(0.36)" y="3.6">CAMK2A</text>
<text transform="translate(108.64,265.79) rotate(-74.68) scale(0.36)" y="3.6">SMYD1</text>
<text transform="translate(117.48,267.76) rotate(-78.51) scale(0.36)" y="3.6">SDC2</text>
<text transform="translate(126.45,269.23) rotate(-82.34) scale(0.36)" y="3.6">CASP3</text>
<text transform="translate(135.51,270.18) rotate(-86.17) scale(0.36)" y="3.6">PHGDH</text>
<text transform="translate(144.63,270.62) rotate(-90) scale(0.36)" y="3.6">PALMD</text>
</g>
<g stroke="#000" stroke-width="0.28" stroke-linejoin="round">
<path d="M423,52.78L426.36,52.83L429.71,52.96L433.06,53.18L436.4,53.48L439.72,53.88L443.03,54.36L446.32,54.93L449.6,55.58L452.84,56.32L456.06,57.15L459.25,58.05L462.4,59.04L465.52,60.12L468.6,61.27L471.64,62.51L474.64,63.82L477.58,65.21L480.48,66.68L483.32,68.22L486.11,69.84L488.84,71.53L491.51,73.29L494.12,75.11L496.66,77.01L499.13,78.97L501.54,81L503.87,83.09L506.13,85.23L508.31,87.44L510.41,89.7L512.43,92.02L514.38,94.39L516.23,96.81L518,99.27L519.69,101.78L521.28,104.34L522.79,106.93L524.2,109.56L525.53,112.23L526.75,114.93L527.88,117.67L528.92,120.43L529.86,123.21L530.7,126.02L531.44,128.85L532.08,131.7L532.62,134.57L533.06,137.45L533.4,140.33L533.64,143.23L533.78,146.13L533.82,149.03L533.75,151.93L533.58,154.83L533.31,157.73L532.94,160.61L532.47,163.48L531.9,166.34L542.79,168.12L543.42,164.97L543.94,161.81L544.35,158.64L544.64,155.46L544.83,152.27L544.9,149.07L544.86,145.88L544.71,142.69L544.45,139.51L544.07,136.33L543.59,133.17L542.99,130.01L542.28,126.88L541.47,123.77L540.54,120.67L539.51,117.61L538.37,114.57L537.13,111.57L535.78,108.59L534.32,105.66L532.77,102.76L531.11,99.91L529.36,97.1L527.5,94.34L525.56,91.63L523.51,88.97L521.38,86.36L519.15,83.81L516.84,81.33L514.44,78.9L511.96,76.54L509.39,74.24L506.75,72.01L504.02,69.85L501.23,67.77L498.36,65.75L495.42,63.82L492.42,61.96L489.35,60.18L486.23,58.49L483.04,56.87L479.8,55.34L476.51,53.9L473.16,52.54L469.78,51.27L466.34,50.09L462.87,49L459.37,48L455.83,47.09L452.25,46.28L448.66,45.56L445.04,44.94L441.39,44.41L437.74,43.97L434.06,43.63L430.38,43.39L426.69,43.25L423,43.2Z" fill="#E14848"/>
<path d="M531.47,168.22L530.66,171.31L529.73,174.37L528.69,177.41L527.53,180.41L526.26,183.38L524.88,186.31L523.38,189.2L521.77,192.04L520.06,194.84L529.77,199.46L531.65,196.39L533.42,193.26L535.06,190.08L536.59,186.86L537.99,183.59L539.26,180.29L540.41,176.95L541.43,173.58L542.32,170.19Z" fill="#94E148"/>
<path d="M518.97,196.51L517.09,199.22L515.1,201.88L513.02,204.48L510.83,207.03L508.55,209.5L506.18,211.91L503.72,214.25L501.16,216.52L498.53,218.72L506.08,225.73L508.98,223.31L511.79,220.82L514.5,218.24L517.11,215.59L519.62,212.87L522.02,210.07L524.31,207.21L526.5,204.29L528.57,201.3Z" fill="#48E1E1"/>
<path d="M496.89,220.01L494.31,221.95L491.65,223.82L488.94,225.61L486.16,227.33L483.32,228.98L480.42,230.55L477.47,232.05L474.46,233.46L471.41,234.79L468.31,236.04L465.17,237.21L461.99,238.29L458.77,239.29L455.51,240.2L452.23,241.03L448.92,241.76L445.58,242.41L442.22,242.97L438.84,243.43L435.45,243.81L432.05,244.1L428.63,244.29L425.22,244.4L425.44,253.98L429.2,253.86L432.95,253.65L436.7,253.33L440.43,252.92L444.14,252.4L447.84,251.79L451.51,251.08L455.15,250.27L458.76,249.36L462.34,248.36L465.89,247.26L469.39,246.07L472.84,244.79L476.25,243.41L479.61,241.95L482.91,240.39L486.16,238.75L489.35,237.02L492.47,235.21L495.53,233.31L498.52,231.34L501.44,229.28L504.28,227.15Z" fill="#9448E1"/>
<path d="M420.78,52.8L418.78,52.85L416.79,52.93L416.58,49.74L418.64,49.66L420.71,49.61Z" fill="#000000"/>
<path d="M420.71,49.61L418.64,49.66L416.58,49.74L416.37,46.55L418.5,46.47L420.64,46.41Z" fill="#00FF00"/>
<path d="M420.64,46.41L418.5,46.47L416.37,46.55L416.17,43.37L418.36,43.28L420.56,43.22Z" fill="#00FF00"/>
<path d="M414.57,53.06L412.58,53.21L410.59,53.38L410.18,50.21L412.23,50.03L414.29,49.87Z" fill="#000000"/>
<path d="M414.29,49.87L412.23,50.03L410.18,50.21L409.77,47.04L411.89,46.85L414.01,46.69Z" fill="#00FF00"/>
<path d="M414.01,46.69L411.89,46.85L409.77,47.04L409.35,43.86L411.54,43.67L413.73,43.51Z" fill="#00FF00"/>
<path d="M408.39,53.62L406.41,53.86L404.44,54.14L403.82,50.99L405.86,50.7L407.91,50.45Z" fill="#007800"/>
<path d="M407.91,50.45L405.86,50.7L403.82,50.99L403.2,47.84L405.31,47.55L407.42,47.29Z" fill="#00FF00"/>
<path d="M407.42,47.29L405.31,47.55L403.2,47.84L402.58,44.69L404.75,44.39L406.93,44.12Z" fill="#00FF00"/>
<path d="M402.26,54.48L400.29,54.81L398.34,55.18L397.52,52.07L399.54,51.69L401.56,51.34Z" fill="#FF0000"/>
<path d="M401.56,51.34L399.54,51.69L397.52,52.07L396.7,48.96L398.78,48.56L400.87,48.2Z" fill="#FF0000"/>
<path d="M400.87,48.2L398.78,48.56L396.7,48.96L395.87,45.84L398.02,45.44L400.18,45.06Z" fill="#FF0000"/>
<path d="M396.18,55.63L394.25,56.06L392.32,56.53L391.3,53.46L393.29,52.98L395.29,52.53Z" fill="#FF0000"/>
<path d="M395.29,52.53L393.29,52.98L391.3,53.46L390.28,50.39L392.33,49.89L394.4,49.43Z" fill="#FF0000"/>
<path d="M394.4,49.43L392.33,49.89L390.28,50.39L389.25,47.32L391.37,46.81L393.5,46.33Z" fill="#FF0000"/>
<path d="M390.2,57.08L388.29,57.6L386.4,58.16L385.18,55.14L387.14,54.57L389.1,54.02Z" fill="#FF0000"/>
<path d="M389.1,54.02L387.14,54.57L385.18,55.14L383.96,52.13L385.98,51.54L388.01,50.97Z" fill="#FF0000"/>
<path d="M388.01,50.97L385.98,51.54L383.96,52.13L382.74,49.11L384.82,48.5L386.92,47.92Z" fill="#FF0000"/>
<path d="M384.31,58.81L382.45,59.43L380.59,60.08L379.18,57.12L381.09,56.46L383.03,55.82Z" fill="#FF0000"/>
<path d="M383.03,55.82L381.09,56.46L379.18,57.12L377.76,54.17L379.74,53.48L381.74,52.82Z" fill="#FF0000"/>
<path d="M381.74,52.82L379.74,53.48L377.76,54.17L376.35,51.22L378.39,50.51L380.45,49.83Z" fill="#FF0000"/>
<path d="M378.55,60.83L376.73,61.53L374.92,62.27L373.32,59.39L375.19,58.63L377.07,57.9Z" fill="#FF0000"/>
<path d="M377.07,57.9L375.19,58.63L373.32,59.39L371.71,56.52L373.64,55.73L375.59,54.97Z" fill="#FF0000"/>
<path d="M375.59,54.97L373.64,55.73L371.71,56.52L370.11,53.64L372.1,52.83L374.11,52.05Z" fill="#FF0000"/>
<path d="M372.93,63.12L371.15,63.91L369.4,64.74L367.61,61.94L369.43,61.09L371.26,60.27Z" fill="#FF0000"/>
<path d="M371.26,60.27L369.43,61.09L367.61,61.94L365.82,59.15L367.7,58.27L369.59,57.42Z" fill="#FF0000"/>
<path d="M369.59,57.42L367.7,58.27L365.82,59.15L364.03,56.35L365.97,55.45L367.92,54.57Z" fill="#FF0000"/>
<path d="M367.47,65.68L365.74,66.56L364.04,67.47L362.08,64.76L363.84,63.83L365.62,62.92Z" fill="#FF0000"/>
<path d="M365.62,62.92L363.84,63.83L362.08,64.76L360.11,62.06L361.93,61.09L363.76,60.15Z" fill="#FF0000"/>
<path d="M363.76,60.15L361.93,61.09L360.11,62.06L358.15,59.36L360.02,58.36L361.91,57.39Z" fill="#FF0000"/>
<path d="M362.18,68.5L360.51,69.47L358.87,70.45L356.74,67.85L358.43,66.83L360.15,65.83Z" fill="#FF0000"/>
<path d="M360.15,65.83L358.43,66.83L356.74,67.85L354.6,65.24L356.35,64.19L358.12,63.16Z" fill="#FF0000"/>
<path d="M358.12,63.16L356.35,64.19L354.6,65.24L352.46,62.64L354.27,61.55L356.09,60.49Z" fill="#FF0000"/>
<path d="M357.08,71.58L355.48,72.62L353.91,73.69L351.6,71.19L353.23,70.09L354.88,69.01Z" fill="#FF0000"/>
<path d="M354.88,69.01L353.23,70.09L351.6,71.19L349.3,68.69L350.98,67.55L352.68,66.44Z" fill="#FF0000"/>
<path d="M352.68,66.44L350.98,67.55L349.3,68.69L347,66.19L348.73,65.02L350.49,63.88Z" fill="#FF0000"/>
<path d="M352.19,74.9L350.66,76.01L349.16,77.15L346.7,74.77L348.25,73.59L349.83,72.44Z" fill="#FF0000"/>
<path d="M349.83,72.44L348.25,73.59L346.7,74.77L344.23,72.39L345.84,71.17L347.47,69.98Z" fill="#FF0000"/>
<path d="M347.47,69.98L345.84,71.17L344.23,72.39L341.77,70.01L343.43,68.75L345.11,67.53Z" fill="#FF0000"/>
<path d="M347.52,78.45L346.07,79.63L344.64,80.85L342.03,78.59L343.5,77.34L345,76.11Z" fill="#FF0000"/>
<path d="M345,76.11L343.5,77.34L342.03,78.59L339.42,76.33L340.94,75.04L342.49,73.77Z" fill="#FF0000"/>
<path d="M342.49,73.77L340.94,75.04L339.42,76.33L336.8,74.07L338.37,72.74L339.97,71.43Z" fill="#FF0000"/>
<path d="M343.09,82.21L341.72,83.47L340.37,84.75L337.61,82.62L339.01,81.3L340.42,80Z" fill="#007800"/>
<path d="M340.42,80L339.01,81.3L337.61,82.62L334.86,80.5L336.3,79.13L337.76,77.79Z" fill="#00FF00"/>
<path d="M337.76,77.79L336.3,79.13L334.86,80.5L332.11,78.37L333.59,76.96L335.1,75.58Z" fill="#00FF00"/>
<path d="M338.91,86.19L337.62,87.52L336.36,88.86L333.47,86.87L334.77,85.48L336.11,84.11Z" fill="#000000"/>
<path d="M336.11,84.11L334.77,85.48L333.47,86.87L330.58,84.88L331.93,83.44L333.3,82.03Z" fill="#00FF00"/>
<path d="M333.3,82.03L331.93,83.44L330.58,84.88L327.69,82.88L329.08,81.41L330.5,79.95Z" fill="#00FF00"/>
<path d="M334.99,90.37L333.79,91.75L332.62,93.15L329.61,91.3L330.82,89.86L332.06,88.43Z" fill="#00FF00"/>
<path d="M332.06,88.43L330.82,89.86L329.61,91.3L326.6,89.46L327.85,87.96L329.13,86.49Z" fill="#00FF00"/>
<path d="M329.13,86.49L327.85,87.96L326.6,89.46L323.58,87.61L324.87,86.07L326.19,84.55Z" fill="#00FF00"/>
<path d="M331.36,94.73L330.25,96.17L329.17,97.62L326.04,95.92L327.16,94.42L328.3,92.93Z" fill="#FF0000"/>
<path d="M328.3,92.93L327.16,94.42L326.04,95.92L322.91,94.22L324.06,92.67L325.25,91.14Z" fill="#FF0000"/>
<path d="M325.25,91.14L324.06,92.67L322.91,94.22L319.78,92.52L320.97,90.92L322.19,89.34Z" fill="#FF0000"/>
<path d="M328.01,99.25L326.99,100.74L326.01,102.25L322.78,100.71L323.79,99.15L324.84,97.61Z" fill="#FF0000"/>
<path d="M324.84,97.61L323.79,99.15L322.78,100.71L319.54,99.16L320.59,97.55L321.67,95.96Z" fill="#FF0000"/>
<path d="M321.67,95.96L320.59,97.55L319.54,99.16L316.31,97.62L317.39,95.96L318.51,94.32Z" fill="#FF0000"/>
<path d="M324.96,103.94L324.04,105.47L323.16,107.03L319.83,105.64L320.74,104.04L321.69,102.45Z" fill="#FF0000"/>
<path d="M321.69,102.45L320.74,104.04L319.83,105.64L316.5,104.25L317.44,102.6L318.42,100.96Z" fill="#FF0000"/>
<path d="M318.42,100.96L317.44,102.6L316.5,104.25L313.17,102.87L314.14,101.16L315.15,99.47Z" fill="#FF0000"/>
<path d="M322.21,108.76L321.4,110.34L320.62,111.93L317.2,110.71L318.01,109.06L318.86,107.43Z" fill="#FF0000"/>
<path d="M318.86,107.43L318.01,109.06L317.2,110.71L313.79,109.49L314.63,107.79L315.5,106.1Z" fill="#FF0000"/>
<path d="M315.5,106.1L314.63,107.79L313.79,109.49L310.38,108.27L311.24,106.51L312.14,104.78Z" fill="#FF0000"/>
<path d="M319.79,113.71L319.08,115.33L318.4,116.95L314.91,115.9L315.61,114.22L316.35,112.55Z" fill="#000000"/>
<path d="M316.35,112.55L315.61,114.22L314.91,115.9L311.43,114.84L312.15,113.11L312.91,111.38Z" fill="#007800"/>
<path d="M312.91,111.38L312.15,113.11L311.43,114.84L307.94,113.79L308.69,112L309.47,110.22Z" fill="#00FF00"/>
<path d="M317.69,118.77L317.08,120.42L316.51,122.07L312.96,121.19L313.55,119.48L314.18,117.77Z" fill="#00FF00"/>
<path d="M314.18,117.77L313.55,119.48L312.96,121.19L309.41,120.31L310.02,118.54L310.67,116.78Z" fill="#00FF00"/>
<path d="M310.67,116.78L310.02,118.54L309.41,120.31L305.86,119.42L306.49,117.6L307.16,115.79Z" fill="#00FF00"/>
<path d="M315.92,123.92L315.42,125.6L314.96,127.28L311.36,126.57L311.84,124.83L312.35,123.1Z" fill="#00FF00"/>
<path d="M312.35,123.1L311.84,124.83L311.36,126.57L307.76,125.86L308.25,124.06L308.78,122.28Z" fill="#00FF00"/>
<path d="M308.78,122.28L308.25,124.06L307.76,125.86L304.16,125.15L304.67,123.3L305.21,121.45Z" fill="#00FF00"/>
<path d="M314.49,129.15L314.1,130.85L313.75,132.55L310.11,132.01L310.47,130.26L310.87,128.5Z" fill="#007800"/>
<path d="M310.87,128.5L310.47,130.26L310.11,132.01L306.46,131.48L306.84,129.66L307.25,127.85Z" fill="#00FF00"/>
<path d="M307.25,127.85L306.84,129.66L306.46,131.48L302.82,130.94L303.21,129.07L303.64,127.21Z" fill="#00FF00"/>
<path d="M313.4,134.44L313.12,136.15L312.88,137.87L309.21,137.51L309.46,135.74L309.74,133.97Z" fill="#000000"/>
<path d="M309.74,133.97L309.46,135.74L309.21,137.51L305.54,137.16L305.8,135.33L306.09,133.5Z" fill="#00FF00"/>
<path d="M306.09,133.5L305.8,135.33L305.54,137.16L301.87,136.8L302.13,134.91L302.44,133.03Z" fill="#00FF00"/>
<path d="M312.65,139.78L312.49,141.5L312.36,143.23L308.67,143.05L308.8,141.26L308.97,139.48Z" fill="#000000"/>
<path d="M308.97,139.48L308.8,141.26L308.67,143.05L304.98,142.87L305.12,141.03L305.3,139.19Z" fill="#00FF00"/>
<path d="M305.3,139.19L305.12,141.03L304.98,142.87L301.29,142.69L301.43,140.79L301.62,138.9Z" fill="#00FF00"/>
<path d="M312.25,145.14L312.2,146.87L312.18,148.6L308.49,148.6L308.51,146.81L308.56,145.03Z" fill="#00FF00"/>
<path d="M308.56,145.03L308.51,146.81L308.49,148.6L304.79,148.6L304.81,146.76L304.87,144.91Z" fill="#00FF00"/>
<path d="M304.87,144.91L304.81,146.76L304.79,148.6L301.1,148.6L301.12,146.7L301.18,144.8Z" fill="#00FF00"/>
<path d="M312.2,150.52L312.26,152.24L312.36,153.97L308.67,154.15L308.57,152.37L308.51,150.58Z" fill="#007800"/>
<path d="M308.51,150.58L308.57,152.37L308.67,154.15L304.98,154.33L304.88,152.49L304.82,150.64Z" fill="#00FF00"/>
<path d="M304.82,150.64L304.88,152.49L304.98,154.33L301.29,154.51L301.19,152.61L301.12,150.71Z" fill="#00FF00"/>
<path d="M312.5,155.88L312.67,157.61L312.88,159.33L309.21,159.69L309,157.91L308.82,156.13Z" fill="#000000"/>
<path d="M308.82,156.13L309,157.91L309.21,159.69L305.54,160.04L305.32,158.21L305.14,156.37Z" fill="#007800"/>
<path d="M305.14,156.37L305.32,158.21L305.54,160.04L301.87,160.4L301.64,158.51L301.45,156.61Z" fill="#00FF00"/>
<path d="M313.15,161.23L313.43,162.94L313.75,164.65L310.11,165.19L309.78,163.42L309.49,161.65Z" fill="#FF0000"/>
<path d="M309.49,161.65L309.78,163.42L310.11,165.19L306.46,165.72L306.13,163.9L305.83,162.07Z" fill="#FF0000"/>
<path d="M305.83,162.07L306.13,163.9L306.46,165.72L302.82,166.26L302.47,164.38L302.16,162.49Z" fill="#FF0000"/>
<path d="M314.14,166.54L314.53,168.23L314.96,169.92L311.36,170.63L310.92,168.89L310.51,167.13Z" fill="#FF0000"/>
<path d="M310.51,167.13L310.92,168.89L311.36,170.63L307.76,171.34L307.3,169.54L306.88,167.73Z" fill="#FF0000"/>
<path d="M306.88,167.73L307.3,169.54L307.76,171.34L304.16,172.05L303.69,170.2L303.25,168.33Z" fill="#FF0000"/>
<path d="M315.48,171.79L315.98,173.46L316.51,175.13L312.96,176.01L312.41,174.29L311.89,172.56Z" fill="#FF0000"/>
<path d="M311.89,172.56L312.41,174.29L312.96,176.01L309.41,176.89L308.84,175.12L308.31,173.33Z" fill="#FF0000"/>
<path d="M308.31,173.33L308.84,175.12L309.41,176.89L305.86,177.78L305.27,175.95L304.72,174.1Z" fill="#FF0000"/>
<path d="M317.15,176.96L317.76,178.61L318.4,180.25L314.91,181.3L314.25,179.61L313.62,177.91Z" fill="#00FF00"/>
<path d="M313.62,177.91L314.25,179.61L314.91,181.3L311.43,182.36L310.74,180.61L310.09,178.85Z" fill="#00FF00"/>
<path d="M310.09,178.85L310.74,180.61L311.43,182.36L307.94,183.41L307.23,181.61L306.56,179.8Z" fill="#00FF00"/>
<path d="M319.15,182.05L319.87,183.66L320.62,185.27L317.2,186.49L316.43,184.83L315.69,183.16Z" fill="#00FF00"/>
<path d="M315.69,183.16L316.43,184.83L317.2,186.49L313.79,187.71L312.99,186L312.23,184.28Z" fill="#00FF00"/>
<path d="M312.23,184.28L312.99,186L313.79,187.71L310.38,188.93L309.56,187.17L308.77,185.39Z" fill="#00FF00"/>
<path d="M321.49,187.03L322.3,188.61L323.16,190.17L319.83,191.56L318.95,189.94L318.1,188.31Z" fill="#00FF00"/>
<path d="M318.1,188.31L318.95,189.94L319.83,191.56L316.5,192.95L315.59,191.28L314.72,189.59Z" fill="#00FF00"/>
<path d="M314.72,189.59L315.59,191.28L316.5,192.95L313.17,194.33L312.24,192.61L311.33,190.87Z" fill="#00FF00"/>
<path d="M324.14,191.89L325.06,193.43L326.01,194.95L322.78,196.49L321.79,194.92L320.84,193.34Z" fill="#FF0000"/>
<path d="M320.84,193.34L321.79,194.92L322.78,196.49L319.54,198.04L318.53,196.42L317.55,194.78Z" fill="#FF0000"/>
<path d="M317.55,194.78L318.53,196.42L319.54,198.04L316.31,199.58L315.26,197.91L314.25,196.22Z" fill="#FF0000"/>
<path d="M327.1,196.62L328.12,198.11L329.17,199.58L326.04,201.28L324.96,199.76L323.9,198.22Z" fill="#FF0000"/>
<path d="M323.9,198.22L324.96,199.76L326.04,201.28L322.91,202.98L321.79,201.41L320.71,199.82Z" fill="#FF0000"/>
<path d="M320.71,199.82L321.79,201.41L322.91,202.98L319.78,204.68L318.63,203.06L317.51,201.42Z" fill="#FF0000"/>
<path d="M330.37,201.19L331.48,202.63L332.62,204.05L329.61,205.9L328.43,204.43L327.28,202.94Z" fill="#FF0000"/>
<path d="M327.28,202.94L328.43,204.43L329.61,205.9L326.6,207.74L325.38,206.23L324.19,204.7Z" fill="#FF0000"/>
<path d="M324.19,204.7L325.38,206.23L326.6,207.74L323.58,209.59L322.33,208.03L321.1,206.45Z" fill="#FF0000"/>
<path d="M333.92,205.6L335.13,206.98L336.36,208.34L333.47,210.33L332.2,208.93L330.95,207.5Z" fill="#00FF00"/>
<path d="M330.95,207.5L332.2,208.93L333.47,210.33L330.58,212.32L329.27,210.87L327.98,209.4Z" fill="#00FF00"/>
<path d="M327.98,209.4L329.27,210.87L330.58,212.32L327.69,214.32L326.34,212.82L325.01,211.3Z" fill="#00FF00"/>
<path d="M337.76,209.83L339.05,211.15L340.37,212.45L337.61,214.58L336.25,213.23L334.92,211.87Z" fill="#FF0000"/>
<path d="M334.92,211.87L336.25,213.23L337.61,214.58L334.86,216.7L333.45,215.32L332.08,213.91Z" fill="#FF0000"/>
<path d="M332.08,213.91L333.45,215.32L334.86,216.7L332.11,218.83L330.65,217.4L329.23,215.95Z" fill="#FF0000"/>
<path d="M341.86,213.86L343.24,215.12L344.64,216.35L342.03,218.61L340.58,217.34L339.16,216.04Z" fill="#00FF00"/>
<path d="M339.16,216.04L340.58,217.34L342.03,218.61L339.42,220.87L337.92,219.55L336.45,218.22Z" fill="#00FF00"/>
<path d="M336.45,218.22L337.92,219.55L339.42,220.87L336.8,223.13L335.26,221.77L333.75,220.39Z" fill="#00FF00"/>
<path d="M346.22,217.7L347.68,218.88L349.16,220.05L346.7,222.43L345.17,221.22L343.66,220Z" fill="#00FF00"/>
<path d="M343.66,220L345.17,221.22L346.7,222.43L344.23,224.81L342.66,223.57L341.1,222.3Z" fill="#00FF00"/>
<path d="M341.1,222.3L342.66,223.57L344.23,224.81L341.77,227.19L340.15,225.91L338.54,224.6Z" fill="#00FF00"/>
<path d="M350.82,221.31L352.35,222.42L353.91,223.51L351.6,226.01L350,224.88L348.42,223.73Z" fill="#3A0800"/>
<path d="M348.42,223.73L350,224.88L351.6,226.01L349.3,228.51L347.64,227.34L346.01,226.16Z" fill="#00FF00"/>
<path d="M346.01,226.16L347.64,227.34L349.3,228.51L347,231.01L345.29,229.81L343.61,228.58Z" fill="#00FF00"/>
<path d="M355.65,224.69L357.25,225.73L358.87,226.75L356.74,229.35L355.06,228.3L353.41,227.23Z" fill="#00FF00"/>
<path d="M353.41,227.23L355.06,228.3L356.74,229.35L354.6,231.96L352.87,230.87L351.16,229.77Z" fill="#00FF00"/>
<path d="M351.16,229.77L352.87,230.87L354.6,231.96L352.46,234.56L350.68,233.45L348.92,232.3Z" fill="#00FF00"/>
<path d="M360.69,227.84L362.36,228.8L364.04,229.73L362.08,232.44L360.34,231.47L358.62,230.48Z" fill="#00FF00"/>
<path d="M358.62,230.48L360.34,231.47L362.08,232.44L360.11,235.14L358.31,234.14L356.54,233.12Z" fill="#00FF00"/>
<path d="M356.54,233.12L358.31,234.14L360.11,235.14L358.15,237.84L356.29,236.82L354.46,235.76Z" fill="#00FF00"/>
<path d="M365.93,230.73L367.65,231.61L369.4,232.46L367.61,235.26L365.81,234.38L364.03,233.47Z" fill="#007800"/>
<path d="M364.03,233.47L365.81,234.38L367.61,235.26L365.82,238.05L363.96,237.15L362.12,236.21Z" fill="#00FF00"/>
<path d="M362.12,236.21L363.96,237.15L365.82,238.05L364.03,240.85L362.12,239.91L360.22,238.95Z" fill="#00FF00"/>
<path d="M371.35,233.37L373.12,234.16L374.92,234.93L373.32,237.81L371.46,237.02L369.62,236.2Z" fill="#000000"/>
<path d="M369.62,236.2L371.46,237.02L373.32,237.81L371.71,240.68L369.8,239.87L367.9,239.02Z" fill="#00FF00"/>
<path d="M367.9,239.02L369.8,239.87L371.71,240.68L370.11,243.56L368.14,242.72L366.18,241.85Z" fill="#00FF00"/>
<path d="M376.92,235.74L378.75,236.45L380.59,237.12L379.18,240.08L377.28,239.38L375.39,238.65Z" fill="#000000"/>
<path d="M375.39,238.65L377.28,239.38L379.18,240.08L377.76,243.03L375.8,242.3L373.85,241.55Z" fill="#00FF00"/>
<path d="M373.85,241.55L375.8,242.3L377.76,243.03L376.35,245.98L374.33,245.23L372.32,244.46Z" fill="#00FF00"/>
<path d="M382.65,237.84L384.52,238.46L386.4,239.04L385.18,242.06L383.23,241.45L381.3,240.81Z" fill="#007800"/>
<path d="M381.3,240.81L383.23,241.45L385.18,242.06L383.96,245.07L381.95,244.45L379.96,243.79Z" fill="#00FF00"/>
<path d="M379.96,243.79L381.95,244.45L383.96,245.07L382.74,248.09L380.67,247.44L378.61,246.76Z" fill="#00FF00"/>
<path d="M388.5,239.66L390.4,240.18L392.32,240.67L391.3,243.74L389.32,243.23L387.35,242.69Z" fill="#000000"/>
<path d="M387.35,242.69L389.32,243.23L391.3,243.74L390.28,246.81L388.23,246.28L386.2,245.73Z" fill="#007800"/>
<path d="M386.2,245.73L388.23,246.28L390.28,246.81L389.25,249.88L387.15,249.34L385.05,248.76Z" fill="#00FF00"/>
<path d="M394.46,241.19L396.39,241.62L398.34,242.02L397.52,245.13L395.51,244.72L393.51,244.27Z" fill="#000000"/>
<path d="M393.51,244.27L395.51,244.72L397.52,245.13L396.7,248.24L394.62,247.82L392.55,247.36Z" fill="#00FF00"/>
<path d="M392.55,247.36L394.62,247.82L396.7,248.24L395.87,251.36L393.73,250.92L391.6,250.44Z" fill="#00FF00"/>
<path d="M400.51,242.42L402.47,242.76L404.44,243.06L403.82,246.21L401.78,245.9L399.76,245.55Z" fill="#007800"/>
<path d="M399.76,245.55L401.78,245.9L403.82,246.21L403.2,249.36L401.1,249.04L399.01,248.68Z" fill="#7A1400"/>
<path d="M399.01,248.68L401.1,249.04L403.2,249.36L402.58,252.51L400.42,252.18L398.26,251.81Z" fill="#FF0000"/>
<path d="M406.63,243.37L408.61,243.61L410.59,243.82L410.18,246.99L408.13,246.77L406.08,246.53Z" fill="#FF0000"/>
<path d="M406.08,246.53L408.13,246.77L410.18,246.99L409.77,250.16L407.65,249.94L405.53,249.68Z" fill="#FF0000"/>
<path d="M405.53,249.68L407.65,249.94L409.77,250.16L409.35,253.34L407.17,253.11L404.99,252.84Z" fill="#FF0000"/>
<path d="M412.8,244.01L414.79,244.15L416.79,244.27L416.58,247.46L414.52,247.34L412.46,247.19Z" fill="#007800"/>
<path d="M412.46,247.19L414.52,247.34L416.58,247.46L416.37,250.65L414.24,250.53L412.12,250.37Z" fill="#00FF00"/>
<path d="M412.12,250.37L414.24,250.53L416.37,250.65L416.17,253.83L413.97,253.71L411.78,253.55Z" fill="#00FF00"/>
<path d="M419,244.36L421,244.4L423,244.42L423,247.61L420.93,247.6L418.87,247.55Z" fill="#000000"/>
<path d="M418.87,247.55L420.93,247.6L423,247.61L423,250.81L420.87,250.79L418.73,250.74Z" fill="#007800"/>
<path d="M418.73,250.74L420.87,250.79L423,250.81L423,254L420.8,253.98L418.6,253.93Z" fill="#00FF00"/>
<path d="M423,52.78Q423,148.6 420.78,52.8L419.78,52.82Q423,148.6 426.48,52.83Z" fill="#FF0000" stroke-width="0.24"/>
<path d="M426.48,52.83Q423,148.6 414.57,53.06L413.58,53.13Q423,148.6 429.95,52.97Z" fill="#FF0000" stroke-width="0.24"/>
<path d="M429.95,52.97Q423,148.6 408.39,53.62L407.4,53.74Q423,148.6 433.42,53.21Z" fill="#FF0000" stroke-width="0.24"/>
<path d="M433.42,53.21Q423,148.6 402.26,54.48L400.29,54.81Q423,148.6 436.87,53.54Z" fill="#FF0000" stroke-width="0.24"/>
<path d="M436.87,53.54Q423,148.6 396.18,55.63L394.25,56.06Q423,148.6 440.31,53.96Z" fill="#FF0000" stroke-width="0.24"/>
<path d="M440.31,53.96Q423,148.6 390.2,57.08L388.29,57.6Q423,148.6 443.74,54.47Z" fill="#FF0000" stroke-width="0.24"/>
<path d="M443.74,54.47Q423,148.6 384.31,58.81L382.45,59.43Q423,148.6 447.14,55.08Z" fill="#FF0000" stroke-width="0.24"/>
<path d="M447.14,55.08Q423,148.6 378.55,60.83L376.73,61.53Q423,148.6 450.53,55.78Z" fill="#FF0000" stroke-width="0.24"/>
<path d="M450.53,55.78Q423,148.6 372.93,63.12L371.15,63.91Q423,148.6 453.88,56.58Z" fill="#FF0000" stroke-width="0.24"/>
<path d="M453.88,56.58Q423,148.6 367.47,65.68L365.74,66.56Q423,148.6 457.2,57.46Z" fill="#FF0000" stroke-width="0.24"/>
<path d="M457.2,57.46Q423,148.6 362.18,68.5L360.51,69.47Q423,148.6 460.49,58.43Z" fill="#FF0000" stroke-width="0.24"/>
<path d="M460.49,58.43Q423,148.6 357.08,71.58L355.48,72.62Q423,148.6 463.75,59.49Z" fill="#FF0000" stroke-width="0.24"/>
<path d="M463.75,59.49Q423,148.6 352.19,74.9L350.66,76.01Q423,148.6 466.96,60.64Z" fill="#FF0000" stroke-width="0.24"/>
<path d="M466.96,60.64Q423,148.6 347.52,78.45L346.07,79.63Q423,148.6 470.13,61.88Z" fill="#FF0000" stroke-width="0.24"/>
<path d="M470.13,61.88Q423,148.6 343.09,82.21L341.72,83.47Q423,148.6 473.25,63.2Z" fill="#FF0000" stroke-width="0.24"/>
<path d="M473.25,63.2Q423,148.6 338.91,86.19L337.62,87.52Q423,148.6 476.33,64.6Z" fill="#FF0000" stroke-width="0.24"/>
<path d="M476.33,64.6Q423,148.6 334.99,90.37L333.79,91.75Q423,148.6 479.35,66.09Z" fill="#FF0000" stroke-width="0.24"/>
<path d="M479.35,66.09Q423,148.6 331.36,94.73L330.25,96.17Q423,148.6 482.31,67.66Z" fill="#FF0000" stroke-width="0.24"/>
<path d="M482.31,67.66Q423,148.6 328.01,99.25L326.99,100.74Q423,148.6 485.22,69.31Z" fill="#FF0000" stroke-width="0.24"/>
<path d="M485.22,69.31Q423,148.6 324.96,103.94L324.04,105.47Q423,148.6 488.07,71.04Z" fill="#FF0000" stroke-width="0.24"/>
<path d="M488.07,71.04Q423,148.6 322.21,108.76L321.4,110.34Q423,148.6 490.85,72.84Z" fill="#FF0000" stroke-width="0.24"/>
<path d="M490.85,72.84Q423,148.6 319.79,113.71L319.08,115.33Q423,148.6 493.56,74.72Z" fill="#FF0000" stroke-width="0.24"/>
<path d="M493.56,74.72Q423,148.6 317.69,118.77L317.08,120.42Q423,148.6 496.21,76.67Z" fill="#FF0000" stroke-width="0.24"/>
<path d="M496.21,76.67Q423,148.6 315.92,123.92L315.58,125.04Q423,148.6 498.78,78.69Z" fill="#FF0000" stroke-width="0.24"/>
<path d="M498.78,78.69Q423,148.6 314.49,129.15L314.23,130.28Q423,148.6 501.28,80.78Z" fill="#FF0000" stroke-width="0.24"/>
<path d="M501.28,80.78Q423,148.6 313.4,134.44L313.21,135.58Q423,148.6 503.7,82.94Z" fill="#FF0000" stroke-width="0.24"/>
<path d="M503.7,82.94Q423,148.6 312.65,139.78L312.54,140.93Q423,148.6 506.05,85.16Z" fill="#FF0000" stroke-width="0.24"/>
<path d="M506.05,85.16Q423,148.6 312.25,145.14L312.21,146.29Q423,148.6 508.31,87.44Z" fill="#FF0000" stroke-width="0.24"/>
<path d="M508.31,87.44Q423,148.6 312.2,150.52L312.24,151.67Q423,148.6 510.49,89.78Z" fill="#FF0000" stroke-width="0.24"/>
<path d="M510.49,89.78Q423,148.6 312.5,155.88L312.61,157.03Q423,148.6 512.58,92.19Z" fill="#FF0000" stroke-width="0.24"/>
<path d="M512.58,92.19Q423,148.6 313.15,161.23L313.75,164.65Q423,148.6 514.58,94.64Z" fill="#FF0000" stroke-width="0.24"/>
<path d="M514.58,94.64Q423,148.6 314.14,166.54L314.96,169.92Q423,148.6 516.49,97.16Z" fill="#FF0000" stroke-width="0.24"/>
<path d="M516.49,97.16Q423,148.6 315.48,171.79L316.51,175.13Q423,148.6 518.31,99.72Z" fill="#FF0000" stroke-width="0.24"/>
<path d="M518.31,99.72Q423,148.6 317.15,176.96L318.4,180.25Q423,148.6 520.04,102.33Z" fill="#FF0000" stroke-width="0.24"/>
<path d="M520.04,102.33Q423,148.6 319.15,182.05L320.62,185.27Q423,148.6 521.67,104.98Z" fill="#FF0000" stroke-width="0.24"/>
<path d="M521.67,104.98Q423,148.6 321.49,187.03L323.16,190.17Q423,148.6 523.2,107.68Z" fill="#FF0000" stroke-width="0.24"/>
<path d="M523.2,107.68Q423,148.6 324.14,191.89L326.01,194.95Q423,148.6 524.64,110.42Z" fill="#FF0000" stroke-width="0.24"/>
<path d="M524.64,110.42Q423,148.6 327.1,196.62L329.17,199.58Q423,148.6 525.97,113.19Z" fill="#FF0000" stroke-width="0.24"/>
<path d="M525.97,113.19Q423,148.6 330.37,201.19L332.62,204.05Q423,148.6 527.21,116Z" fill="#FF0000" stroke-width="0.24"/>
<path d="M527.21,116Q423,148.6 333.92,205.6L336.36,208.34Q423,148.6 528.34,118.85Z" fill="#FF0000" stroke-width="0.24"/>
<path d="M528.34,118.85Q423,148.6 337.76,209.83L340.37,212.45Q423,148.6 529.37,121.72Z" fill="#FF0000" stroke-width="0.24"/>
<path d="M529.37,121.72Q423,148.6 341.86,213.86L344.64,216.35Q423,148.6 530.29,124.62Z" fill="#FF0000" stroke-width="0.24"/>
<path d="M530.29,124.62Q423,148.6 346.22,217.7L349.16,220.05Q423,148.6 531.11,127.54Z" fill="#FF0000" stroke-width="0.24"/>
<path d="M531.11,127.54Q423,148.6 350.82,221.31L353.91,223.51Q423,148.6 531.82,130.48Z" fill="#FF0000" stroke-width="0.24"/>
<path d="M531.82,130.48Q423,148.6 355.65,224.69L358.87,226.75Q423,148.6 532.42,133.44Z" fill="#FF0000" stroke-width="0.24"/>
<path d="M532.42,133.44Q423,148.6 360.69,227.84L364.04,229.73Q423,148.6 532.92,136.42Z" fill="#FF0000" stroke-width="0.24"/>
<path d="M532.92,136.42Q423,148.6 365.93,230.73L369.4,232.46Q423,148.6 533.31,139.4Z" fill="#FF0000" stroke-width="0.24"/>
<path d="M533.31,139.4Q423,148.6 371.35,233.37L374.92,234.93Q423,148.6 533.59,142.4Z" fill="#FF0000" stroke-width="0.24"/>
<path d="M533.59,142.4Q423,148.6 376.92,235.74L380.59,237.12Q423,148.6 533.76,145.4Z" fill="#FF0000" stroke-width="0.24"/>
<path d="M533.76,145.4Q423,148.6 382.65,237.84L386.4,239.04Q423,148.6 533.82,148.41Z" fill="#FF0000" stroke-width="0.24"/>
<path d="M533.82,148.41Q423,148.6 388.5,239.66L392.32,240.67Q423,148.6 533.77,151.42Z" fill="#FF0000" stroke-width="0.24"/>
<path d="M533.77,151.42Q423,148.6 394.46,241.19L398.34,242.02Q423,148.6 533.61,154.42Z" fill="#FF0000" stroke-width="0.24"/>
<path d="M533.61,154.42Q423,148.6 400.51,242.42L404.44,243.06Q423,148.6 533.35,157.42Z" fill="#FF0000" stroke-width="0.24"/>
<path d="M533.35,157.42Q423,148.6 406.63,243.37L410.59,243.82Q423,148.6 532.97,160.4Z" fill="#FF0000" stroke-width="0.24"/>
<path d="M532.97,160.4Q423,148.6 412.8,244.01L416.79,244.27Q423,148.6 532.49,163.38Z" fill="#FF0000" stroke-width="0.24"/>
<path d="M532.49,163.38Q423,148.6 419,244.36L423,244.42Q423,148.6 531.9,166.34Z" fill="#FF0000" stroke-width="0.24"/>
<path d="M531.47,168.22Q423,148.6 419.78,52.82L418.78,52.85Q423,148.6 530.75,171Z" fill="#80FF00" stroke-width="0.36"/>
<path d="M530.75,171Q423,148.6 413.58,53.13L412.58,53.21Q423,148.6 529.93,173.76Z" fill="#80FF00" stroke-width="0.36"/>
<path d="M529.93,173.76Q423,148.6 407.4,53.74L406.41,53.86Q423,148.6 529.02,176.5Z" fill="#80FF00" stroke-width="0.36"/>
<path d="M529.02,176.5Q423,148.6 315.58,125.04L315.26,126.16Q423,148.6 528.01,179.21Z" fill="#80FF00" stroke-width="0.36"/>
<path d="M528.01,179.21Q423,148.6 314.23,130.28L313.98,131.41Q423,148.6 526.91,181.9Z" fill="#80FF00" stroke-width="0.36"/>
<path d="M526.91,181.9Q423,148.6 313.21,135.58L313.04,136.73Q423,148.6 525.72,184.56Z" fill="#80FF00" stroke-width="0.36"/>
<path d="M525.72,184.56Q423,148.6 312.54,140.93L312.44,142.08Q423,148.6 524.44,187.18Z" fill="#80FF00" stroke-width="0.36"/>
<path d="M524.44,187.18Q423,148.6 312.21,146.29L312.19,147.45Q423,148.6 523.07,189.77Z" fill="#80FF00" stroke-width="0.36"/>
<path d="M523.07,189.77Q423,148.6 312.24,151.67L312.29,152.82Q423,148.6 521.61,192.32Z" fill="#80FF00" stroke-width="0.36"/>
<path d="M521.61,192.32Q423,148.6 312.61,157.03L312.74,158.18Q423,148.6 520.06,194.84Z" fill="#80FF00" stroke-width="0.36"/>
<path d="M518.97,196.51Q423,148.6 418.78,52.85L417.79,52.89Q423,148.6 517.28,198.95Z" fill="#00FFFF" stroke-width="0.36"/>
<path d="M517.28,198.95Q423,148.6 412.58,53.21L411.59,53.29Q423,148.6 515.51,201.36Z" fill="#00FFFF" stroke-width="0.36"/>
<path d="M515.51,201.36Q423,148.6 406.41,53.86L405.42,53.99Q423,148.6 513.65,203.71Z" fill="#00FFFF" stroke-width="0.36"/>
<path d="M513.65,203.71Q423,148.6 315.26,126.16L314.96,127.28Q423,148.6 511.72,206.02Z" fill="#00FFFF" stroke-width="0.36"/>
<path d="M511.72,206.02Q423,148.6 313.98,131.41L313.75,132.55Q423,148.6 509.71,208.27Z" fill="#00FFFF" stroke-width="0.36"/>
<path d="M509.71,208.27Q423,148.6 313.04,136.73L312.88,137.87Q423,148.6 507.62,210.47Z" fill="#00FFFF" stroke-width="0.36"/>
<path d="M507.62,210.47Q423,148.6 312.44,142.08L312.36,143.23Q423,148.6 505.45,212.62Z" fill="#00FFFF" stroke-width="0.36"/>
<path d="M505.45,212.62Q423,148.6 312.19,147.45L312.18,148.6Q423,148.6 503.21,214.71Z" fill="#00FFFF" stroke-width="0.36"/>
<path d="M503.21,214.71Q423,148.6 312.29,152.82L312.36,153.97Q423,148.6 500.9,216.75Z" fill="#00FFFF" stroke-width="0.36"/>
<path d="M500.9,216.75Q423,148.6 312.74,158.18L312.88,159.33Q423,148.6 498.53,218.72Z" fill="#00FFFF" stroke-width="0.36"/>
<path d="M496.89,220.01Q423,148.6 417.79,52.89L416.79,52.93Q423,148.6 494.31,221.95Z" fill="#8000FF" stroke-width="0.46"/>
<path d="M494.31,221.95Q423,148.6 411.59,53.29L410.59,53.38Q423,148.6 491.65,223.82Z" fill="#8000FF" stroke-width="0.46"/>
<path d="M491.65,223.82Q423,148.6 405.42,53.99L404.44,54.14Q423,148.6 488.94,225.61Z" fill="#8000FF" stroke-width="0.46"/>
<path d="M488.94,225.61Q423,148.6 400.29,54.81L398.34,55.18Q423,148.6 486.16,227.33Z" fill="#8000FF" stroke-width="0.46"/>
<path d="M486.16,227.33Q423,148.6 394.25,56.06L392.32,56.53Q423,148.6 483.32,228.98Z" fill="#8000FF" stroke-width="0.46"/>
<path d="M483.32,228.98Q423,148.6 388.29,57.6L386.4,58.16Q423,148.6 480.42,230.55Z" fill="#8000FF" stroke-width="0.46"/>
<path d="M480.42,230.55Q423,148.6 382.45,59.43L380.59,60.08Q423,148.6 477.47,232.05Z" fill="#8000FF" stroke-width="0.46"/>
<path d="M477.47,232.05Q423,148.6 376.73,61.53L374.92,62.27Q423,148.6 474.46,233.46Z" fill="#8000FF" stroke-width="0.46"/>
<path d="M474.46,233.46Q423,148.6 371.15,63.91L369.4,64.74Q423,148.6 471.41,234.79Z" fill="#8000FF" stroke-width="0.46"/>
<path d="M471.41,234.79Q423,148.6 365.74,66.56L364.04,67.47Q423,148.6 468.31,236.04Z" fill="#8000FF" stroke-width="0.46"/>
<path d="M468.31,236.04Q423,148.6 360.51,69.47L358.87,70.45Q423,148.6 465.17,237.21Z" fill="#8000FF" stroke-width="0.46"/>
<path d="M465.17,237.21Q423,148.6 355.48,72.62L353.91,73.69Q423,148.6 461.99,238.29Z" fill="#8000FF" stroke-width="0.46"/>
<path d="M461.99,238.29Q423,148.6 350.66,76.01L349.16,77.15Q423,148.6 458.77,239.29Z" fill="#8000FF" stroke-width="0.46"/>
<path d="M458.77,239.29Q423,148.6 346.07,79.63L344.64,80.85Q423,148.6 455.51,240.2Z" fill="#8000FF" stroke-width="0.46"/>
<path d="M455.51,240.2Q423,148.6 341.72,83.47L340.37,84.75Q423,148.6 452.23,241.03Z" fill="#8000FF" stroke-width="0.46"/>
<path d="M452.23,241.03Q423,148.6 337.62,87.52L336.36,88.86Q423,148.6 448.92,241.76Z" fill="#8000FF" stroke-width="0.46"/>
<path d="M448.92,241.76Q423,148.6 333.79,91.75L332.62,93.15Q423,148.6 445.58,242.41Z" fill="#8000FF" stroke-width="0.46"/>
<path d="M445.58,242.41Q423,148.6 330.25,96.17L329.17,97.62Q423,148.6 442.22,242.97Z" fill="#8000FF" stroke-width="0.46"/>
<path d="M442.22,242.97Q423,148.6 326.99,100.74L326.01,102.25Q423,148.6 438.84,243.43Z" fill="#8000FF" stroke-width="0.46"/>
<path d="M438.84,243.43Q423,148.6 324.04,105.47L323.16,107.03Q423,148.6 435.45,243.81Z" fill="#8000FF" stroke-width="0.46"/>
<path d="M435.45,243.81Q423,148.6 321.4,110.34L320.62,111.93Q423,148.6 432.05,244.1Z" fill="#8000FF" stroke-width="0.46"/>
<path d="M432.05,244.1Q423,148.6 319.08,115.33L318.4,116.95Q423,148.6 428.63,244.29Z" fill="#8000FF" stroke-width="0.46"/>
<path d="M428.63,244.29Q423,148.6 317.08,120.42L316.51,122.07Q423,148.6 425.22,244.4Z" fill="#8000FF" stroke-width="0.46"/>
</g>
<g font-size="10" text-anchor="middle" fill="#000" filter="url(#bold)">
<text transform="translate(417.69,27.96) rotate(-270) scale(0.36)" y="3.6">KIF23</text>
<text transform="translate(409.87,28.4) rotate(-273.27) scale(0.36)" y="3.6">KIF11</text>
<text transform="translate(402.1,29.23) rotate(-276.55) scale(0.36)" y="3.6">ANLN</text>
<text transform="translate(394.39,30.43) rotate(-279.82) scale(0.36)" y="3.6">ACTC1</text>
<text transform="translate(386.77,32) rotate(-283.09) scale(0.36)" y="3.6">BMP10</text>
<text transform="translate(379.27,33.94) rotate(-286.36) scale(0.36)" y="3.6">NEBL</text>
<text transform="translate(371.9,36.24) rotate(-289.64) scale(0.36)" y="3.6">ACTN2</text>
<text transform="translate(364.7,38.9) rotate(-292.91) scale(0.36)" y="3.6">DMD</text>
<text transform="translate(357.67,41.9) rotate(-296.18) scale(0.36)" y="3.6">LMOD2</text>
<text transform="translate(350.86,45.23) rotate(-299.45) scale(0.36)" y="3.6">CSRP3</text>
<text transform="translate(344.27,48.89) rotate(-302.73) scale(0.36)" y="3.6">ACTA1</text>
<text transform="translate(337.93,52.87) rotate(-306) scale(0.36)" y="3.6">CCL21</text>
<text transform="translate(331.85,57.14) rotate(-309.27) scale(0.36)" y="3.6">LDB3</text>
<text transform="translate(326.06,61.7) rotate(-312.55) scale(0.36)" y="3.6">SORBS1</text>
<text transform="translate(320.58,66.54) rotate(-315.82) scale(0.36)" y="3.6">KIF20A</text>
<text transform="translate(315.42,71.63) rotate(-319.09) scale(0.36)" y="3.6">CKAP2</text>
<text transform="translate(310.6,76.97) rotate(-322.36) scale(0.36)" y="3.6">FGF7</text>
<text transform="translate(306.13,82.53) rotate(-325.64) scale(0.36)" y="3.6">PDLIM3</text>
<text transform="translate(302.03,88.3) rotate(-328.91) scale(0.36)" y="3.6">TCAP</text>
<text transform="translate(298.31,94.26) rotate(-332.18) scale(0.36)" y="3.6">CASQ2</text>
<text transform="translate(294.98,100.39) rotate(-335.45) scale(0.36)" y="3.6">ABLIM1</text>
<text transform="translate(292.06,106.67) rotate(-338.73) scale(0.36)" y="3.6">TTK</text>
<text transform="translate(289.55,113.09) rotate(-342) scale(0.36)" y="3.6">CCL2</text>
<text transform="translate(287.45,119.61) rotate(-345.27) scale(0.36)" y="3.6">LOX</text>
<text transform="translate(285.79,126.23) rotate(-348.55) scale(0.36)" y="3.6">FLRT3</text>
<text transform="translate(284.55,132.92) rotate(-351.82) scale(0.36)" y="3.6">UBE2C</text>
<text transform="translate(283.75,139.66) rotate(-355.09) scale(0.36)" y="3.6">CENPF</text>
<text transform="translate(283.39,146.42) rotate(-358.36) scale(0.36)" y="3.6">NIP7</text>
<text transform="translate(283.47,153.19) rotate(-1.64) scale(0.36)" y="3.6">SACS</text>
<text transform="translate(283.99,159.95) rotate(-4.91) scale(0.36)" y="3.6">ASF1B</text>
<text transform="translate(284.94,166.67) rotate(-8.18) scale(0.36)" y="3.6">NPPA</text>
<text transform="translate(286.33,173.34) rotate(-11.45) scale(0.36)" y="3.6">HBB</text>
<text transform="translate(288.15,179.92) rotate(-14.73) scale(0.36)" y="3.6">PLN</text>
<text transform="translate(290.39,186.41) rotate(-18) scale(0.36)" y="3.6">TNC</text>
<text transform="translate(293.05,192.78) rotate(-21.27) scale(0.36)" y="3.6">SFRP2</text>
<text transform="translate(296.12,199.01) rotate(-24.55) scale(0.36)" y="3.6">LIPG</text>
<text transform="translate(299.59,205.08) rotate(-27.82) scale(0.36)" y="3.6">CD36</text>
<text transform="translate(303.45,210.98) rotate(-31.09) scale(0.36)" y="3.6">CAMK2A</text>
<text transform="translate(307.68,216.67) rotate(-34.36) scale(0.36)" y="3.6">LPL</text>
<text transform="translate(312.28,222.16) rotate(-37.64) scale(0.36)" y="3.6">COL12A1</text>
<text transform="translate(317.22,227.41) rotate(-40.91) scale(0.36)" y="3.6">CCK</text>
<text transform="translate(322.5,232.41) rotate(-44.18) scale(0.36)" y="3.6">ITGA8</text>
<text transform="translate(328.09,237.16) rotate(-47.45) scale(0.36)" y="3.6">LGALS3</text>
<text transform="translate(333.99,241.62) rotate(-50.73) scale(0.36)" y="3.6">CCNA2</text>
<text transform="translate(340.16,245.79) rotate(-54) scale(0.36)" y="3.6">UCHL1</text>
<text transform="translate(346.59,249.65) rotate(-57.27) scale(0.36)" y="3.6">PRRX1</text>
<text transform="translate(353.26,253.2) rotate(-60.55) scale(0.36)" y="3.6">MAP9</text>
<text transform="translate(360.16,256.41) rotate(-63.82) scale(0.36)" y="3.6">PBK</text>
<text transform="translate(367.25,259.29) rotate(-67.09) scale(0.36)" y="3.6">DLGAP5</text>
<text transform="translate(374.51,261.82) rotate(-70.36) scale(0.36)" y="3.6">BMP4</text>
<text transform="translate(381.93,263.99) rotate(-73.64) scale(0.36)" y="3.6">LIMK1</text>
<text transform="translate(389.48,265.8) rotate(-76.91) scale(0.36)" y="3.6">NCAPG</text>
<text transform="translate(397.13,267.24) rotate(-80.18) scale(0.36)" y="3.6">RHAMM</text>
<text transform="translate(404.86,268.31) rotate(-83.45) scale(0.36)" y="3.6">CACNB2</text>
<text transform="translate(412.66,269) rotate(-86.73) scale(0.36)" y="3.6">MET</text>
<text transform="translate(420.48,269.31) rotate(-90) scale(0.36)" y="3.6">CDC20</text>
</g>
<defs><linearGradient id="lg" x1="0" x2="1" y1="0" y2="0"><stop offset="0" stop-color="#FF0000"/><stop offset="0.5" stop-color="#000"/><stop offset="1" stop-color="#00FF00"/></linearGradient></defs>
<rect x="100.8" y="291.8" width="36.1" height="6.9" fill="url(#lg)"/>
<g font-size="10" fill="#000" filter="url(#bold2)">
<text transform="translate(118.7,290.1) scale(0.46)" text-anchor="middle">logFC</text>
<text transform="translate(100.6,304.6) scale(0.43)" text-anchor="middle">-3</text>
<text transform="translate(136.7,304.6) scale(0.43)" text-anchor="middle">3</text>
<text transform="translate(145.9,291.8) scale(0.45)" text-anchor="start">GO Terms</text>
<rect x="170.3" y="286.9" width="6.5" height="6.5" fill="#FF0000" stroke="#333" stroke-width="0.3"/>
<text transform="translate(181,291.7) scale(0.45)" text-anchor="start">cellular component organization</text>
<rect x="248" y="286.9" width="6.5" height="6.5" fill="#80FF00" stroke="#333" stroke-width="0.3"/>
<text transform="translate(258,291.7) scale(0.45)" text-anchor="start">cellular component biogenesis</text>
<rect x="322.3" y="286.9" width="6.5" height="6.5" fill="#00FFFF" stroke="#333" stroke-width="0.3"/>
<text transform="translate(333,291.7) scale(0.45)" text-anchor="start">cellular component assembly</text>
<rect x="395" y="286.9" width="6.5" height="6.5" fill="#8000FF" stroke="#333" stroke-width="0.3"/>
<text transform="translate(405.7,291.7) scale(0.45)" text-anchor="start">cytoskeleton organization</text>
</g>
</svg>
</body></html>
